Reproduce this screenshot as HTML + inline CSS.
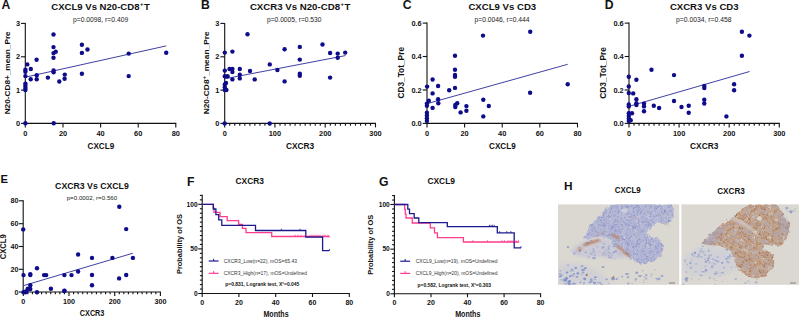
<!DOCTYPE html>
<html><head><meta charset="utf-8"><style>
html,body{margin:0;padding:0;background:#fff;}
svg{display:block;font-family:"Liberation Sans", sans-serif;}
</style></head><body>
<svg width="799" height="317" viewBox="0 0 799 317" style='font-family:"Liberation Sans", sans-serif'>
<rect width="799" height="317" fill="#fff"/>
<text x="1.50" y="8.80" font-size="12.2" font-weight="bold" text-anchor="start" fill="#111" >A</text>
<text x="51.25" y="9.70" font-size="9.5" font-weight="bold" text-anchor="start" fill="#111" textLength="98.60" lengthAdjust="spacingAndGlyphs" >CXCL9 Vs N20-CD8<tspan font-size="5.8" dx="0.5" dy="-3.6">+</tspan><tspan dx="0.6" dy="3.6">T</tspan></text>
<text x="73.00" y="22.40" font-size="6.7" font-weight="normal" text-anchor="start" fill="#222" textLength="55.20" lengthAdjust="spacingAndGlyphs" >p=0.0098, r=0.409</text>
<line x1="25.30" y1="22.90" x2="25.30" y2="123.95" stroke="#111" stroke-width="1.1"/>
<line x1="24.80" y1="123.40" x2="176.30" y2="123.40" stroke="#111" stroke-width="1.1"/>
<line x1="21.00" y1="123.40" x2="25.30" y2="123.40" stroke="#111" stroke-width="1.1"/>
<text x="20.00" y="126.00" font-size="7.92" font-weight="bold" text-anchor="end" fill="#111" textLength="4.12" lengthAdjust="spacingAndGlyphs" >0</text>
<line x1="21.00" y1="90.10" x2="25.30" y2="90.10" stroke="#111" stroke-width="1.1"/>
<text x="20.00" y="92.70" font-size="7.92" font-weight="bold" text-anchor="end" fill="#111" textLength="4.12" lengthAdjust="spacingAndGlyphs" >1</text>
<line x1="21.00" y1="56.80" x2="25.30" y2="56.80" stroke="#111" stroke-width="1.1"/>
<text x="20.00" y="59.40" font-size="7.92" font-weight="bold" text-anchor="end" fill="#111" textLength="4.12" lengthAdjust="spacingAndGlyphs" >2</text>
<line x1="21.00" y1="23.40" x2="25.30" y2="23.40" stroke="#111" stroke-width="1.1"/>
<text x="20.00" y="26.00" font-size="7.92" font-weight="bold" text-anchor="end" fill="#111" textLength="4.12" lengthAdjust="spacingAndGlyphs" >3</text>
<line x1="25.30" y1="123.40" x2="25.30" y2="127.40" stroke="#111" stroke-width="1.1"/>
<text x="25.30" y="136.10" font-size="7.92" font-weight="bold" text-anchor="middle" fill="#111" textLength="4.12" lengthAdjust="spacingAndGlyphs" >0</text>
<line x1="63.00" y1="123.40" x2="63.00" y2="127.40" stroke="#111" stroke-width="1.1"/>
<text x="63.00" y="136.10" font-size="7.92" font-weight="bold" text-anchor="middle" fill="#111" textLength="8.23" lengthAdjust="spacingAndGlyphs" >20</text>
<line x1="100.60" y1="123.40" x2="100.60" y2="127.40" stroke="#111" stroke-width="1.1"/>
<text x="100.60" y="136.10" font-size="7.92" font-weight="bold" text-anchor="middle" fill="#111" textLength="8.23" lengthAdjust="spacingAndGlyphs" >40</text>
<line x1="138.20" y1="123.40" x2="138.20" y2="127.40" stroke="#111" stroke-width="1.1"/>
<text x="138.20" y="136.10" font-size="7.92" font-weight="bold" text-anchor="middle" fill="#111" textLength="8.23" lengthAdjust="spacingAndGlyphs" >60</text>
<line x1="175.80" y1="123.40" x2="175.80" y2="127.40" stroke="#111" stroke-width="1.1"/>
<text x="175.80" y="136.10" font-size="7.92" font-weight="bold" text-anchor="middle" fill="#111" textLength="8.23" lengthAdjust="spacingAndGlyphs" >80</text>
<text x="100.90" y="148.60" font-size="8.8" font-weight="bold" text-anchor="middle" fill="#111" textLength="26.60" lengthAdjust="spacingAndGlyphs" >CXCL9</text>
<text transform="translate(9.80,72.85) rotate(-90)" x="0" y="0" font-size="8.0" font-weight="bold" text-anchor="middle" fill="#111" textLength="83.00" lengthAdjust="spacingAndGlyphs">N20-CD8+_mean_Pre</text>
<line x1="25.30" y1="77.20" x2="166.20" y2="45.90" stroke="#2a2a9a" stroke-width="0.9"/>
<circle cx="25.40" cy="69.70" r="2.2" fill="#0e0c8a"/>
<circle cx="25.40" cy="71.80" r="2.2" fill="#0e0c8a"/>
<circle cx="25.40" cy="76.10" r="2.2" fill="#0e0c8a"/>
<circle cx="25.40" cy="83.60" r="2.2" fill="#0e0c8a"/>
<circle cx="25.40" cy="85.70" r="2.2" fill="#0e0c8a"/>
<circle cx="25.40" cy="87.90" r="2.2" fill="#0e0c8a"/>
<circle cx="25.40" cy="90.00" r="2.2" fill="#0e0c8a"/>
<circle cx="25.40" cy="123.30" r="2.2" fill="#0e0c8a"/>
<circle cx="27.30" cy="64.40" r="2.2" fill="#0e0c8a"/>
<circle cx="30.80" cy="69.00" r="2.2" fill="#0e0c8a"/>
<circle cx="30.70" cy="79.30" r="2.2" fill="#0e0c8a"/>
<circle cx="36.60" cy="59.70" r="2.2" fill="#0e0c8a"/>
<circle cx="36.70" cy="75.20" r="2.2" fill="#0e0c8a"/>
<circle cx="36.70" cy="79.30" r="2.2" fill="#0e0c8a"/>
<circle cx="47.90" cy="77.60" r="2.2" fill="#0e0c8a"/>
<circle cx="53.50" cy="34.50" r="2.2" fill="#0e0c8a"/>
<circle cx="53.50" cy="47.10" r="2.2" fill="#0e0c8a"/>
<circle cx="53.50" cy="53.10" r="2.2" fill="#0e0c8a"/>
<circle cx="55.70" cy="51.80" r="2.2" fill="#0e0c8a"/>
<circle cx="53.50" cy="57.80" r="2.2" fill="#0e0c8a"/>
<circle cx="53.60" cy="70.40" r="2.2" fill="#0e0c8a"/>
<circle cx="53.60" cy="72.20" r="2.2" fill="#0e0c8a"/>
<circle cx="53.70" cy="123.30" r="2.2" fill="#0e0c8a"/>
<circle cx="59.30" cy="81.50" r="2.2" fill="#0e0c8a"/>
<circle cx="64.80" cy="74.60" r="2.2" fill="#0e0c8a"/>
<circle cx="64.60" cy="78.70" r="2.2" fill="#0e0c8a"/>
<circle cx="81.90" cy="44.70" r="2.2" fill="#0e0c8a"/>
<circle cx="87.50" cy="49.50" r="2.2" fill="#0e0c8a"/>
<circle cx="81.90" cy="52.90" r="2.2" fill="#0e0c8a"/>
<circle cx="81.90" cy="73.80" r="2.2" fill="#0e0c8a"/>
<circle cx="128.70" cy="53.60" r="2.2" fill="#0e0c8a"/>
<circle cx="128.70" cy="76.10" r="2.2" fill="#0e0c8a"/>
<circle cx="166.20" cy="52.70" r="2.2" fill="#0e0c8a"/>
<text x="201.00" y="8.80" font-size="12.2" font-weight="bold" text-anchor="start" fill="#111" >B</text>
<text x="249.90" y="9.70" font-size="9.5" font-weight="bold" text-anchor="start" fill="#111" textLength="100.60" lengthAdjust="spacingAndGlyphs" >CXCR3 Vs N20-CD8<tspan font-size="5.8" dx="0.5" dy="-3.6">+</tspan><tspan dx="0.6" dy="3.6">T</tspan></text>
<text x="267.00" y="22.40" font-size="6.7" font-weight="normal" text-anchor="start" fill="#222" textLength="54.50" lengthAdjust="spacingAndGlyphs" >p=0.0005, r=0.530</text>
<line x1="224.70" y1="22.90" x2="224.70" y2="123.95" stroke="#111" stroke-width="1.1"/>
<line x1="224.20" y1="123.40" x2="376.00" y2="123.40" stroke="#111" stroke-width="1.1"/>
<line x1="220.40" y1="123.40" x2="224.70" y2="123.40" stroke="#111" stroke-width="1.1"/>
<text x="219.40" y="126.00" font-size="7.92" font-weight="bold" text-anchor="end" fill="#111" textLength="4.12" lengthAdjust="spacingAndGlyphs" >0</text>
<line x1="220.40" y1="90.10" x2="224.70" y2="90.10" stroke="#111" stroke-width="1.1"/>
<text x="219.40" y="92.70" font-size="7.92" font-weight="bold" text-anchor="end" fill="#111" textLength="4.12" lengthAdjust="spacingAndGlyphs" >1</text>
<line x1="220.40" y1="56.80" x2="224.70" y2="56.80" stroke="#111" stroke-width="1.1"/>
<text x="219.40" y="59.40" font-size="7.92" font-weight="bold" text-anchor="end" fill="#111" textLength="4.12" lengthAdjust="spacingAndGlyphs" >2</text>
<line x1="220.40" y1="23.40" x2="224.70" y2="23.40" stroke="#111" stroke-width="1.1"/>
<text x="219.40" y="26.00" font-size="7.92" font-weight="bold" text-anchor="end" fill="#111" textLength="4.12" lengthAdjust="spacingAndGlyphs" >3</text>
<line x1="224.70" y1="123.40" x2="224.70" y2="127.40" stroke="#111" stroke-width="1.1"/>
<text x="224.70" y="136.10" font-size="7.92" font-weight="bold" text-anchor="middle" fill="#111" textLength="4.12" lengthAdjust="spacingAndGlyphs" >0</text>
<line x1="274.90" y1="123.40" x2="274.90" y2="127.40" stroke="#111" stroke-width="1.1"/>
<text x="274.90" y="136.10" font-size="7.92" font-weight="bold" text-anchor="middle" fill="#111" textLength="12.35" lengthAdjust="spacingAndGlyphs" >100</text>
<line x1="325.20" y1="123.40" x2="325.20" y2="127.40" stroke="#111" stroke-width="1.1"/>
<text x="325.20" y="136.10" font-size="7.92" font-weight="bold" text-anchor="middle" fill="#111" textLength="12.35" lengthAdjust="spacingAndGlyphs" >200</text>
<line x1="375.50" y1="123.40" x2="375.50" y2="127.40" stroke="#111" stroke-width="1.1"/>
<text x="375.50" y="136.10" font-size="7.92" font-weight="bold" text-anchor="middle" fill="#111" textLength="12.35" lengthAdjust="spacingAndGlyphs" >300</text>
<line x1="229.73" y1="123.40" x2="229.73" y2="125.70" stroke="#111" stroke-width="1.1"/>
<line x1="234.76" y1="123.40" x2="234.76" y2="125.70" stroke="#111" stroke-width="1.1"/>
<line x1="239.79" y1="123.40" x2="239.79" y2="125.70" stroke="#111" stroke-width="1.1"/>
<line x1="244.82" y1="123.40" x2="244.82" y2="125.70" stroke="#111" stroke-width="1.1"/>
<line x1="249.85" y1="123.40" x2="249.85" y2="125.70" stroke="#111" stroke-width="1.1"/>
<line x1="254.88" y1="123.40" x2="254.88" y2="125.70" stroke="#111" stroke-width="1.1"/>
<line x1="259.91" y1="123.40" x2="259.91" y2="125.70" stroke="#111" stroke-width="1.1"/>
<line x1="264.94" y1="123.40" x2="264.94" y2="125.70" stroke="#111" stroke-width="1.1"/>
<line x1="269.97" y1="123.40" x2="269.97" y2="125.70" stroke="#111" stroke-width="1.1"/>
<line x1="280.03" y1="123.40" x2="280.03" y2="125.70" stroke="#111" stroke-width="1.1"/>
<line x1="285.06" y1="123.40" x2="285.06" y2="125.70" stroke="#111" stroke-width="1.1"/>
<line x1="290.09" y1="123.40" x2="290.09" y2="125.70" stroke="#111" stroke-width="1.1"/>
<line x1="295.12" y1="123.40" x2="295.12" y2="125.70" stroke="#111" stroke-width="1.1"/>
<line x1="300.15" y1="123.40" x2="300.15" y2="125.70" stroke="#111" stroke-width="1.1"/>
<line x1="305.18" y1="123.40" x2="305.18" y2="125.70" stroke="#111" stroke-width="1.1"/>
<line x1="310.21" y1="123.40" x2="310.21" y2="125.70" stroke="#111" stroke-width="1.1"/>
<line x1="315.24" y1="123.40" x2="315.24" y2="125.70" stroke="#111" stroke-width="1.1"/>
<line x1="320.27" y1="123.40" x2="320.27" y2="125.70" stroke="#111" stroke-width="1.1"/>
<line x1="330.33" y1="123.40" x2="330.33" y2="125.70" stroke="#111" stroke-width="1.1"/>
<line x1="335.36" y1="123.40" x2="335.36" y2="125.70" stroke="#111" stroke-width="1.1"/>
<line x1="340.39" y1="123.40" x2="340.39" y2="125.70" stroke="#111" stroke-width="1.1"/>
<line x1="345.42" y1="123.40" x2="345.42" y2="125.70" stroke="#111" stroke-width="1.1"/>
<line x1="350.45" y1="123.40" x2="350.45" y2="125.70" stroke="#111" stroke-width="1.1"/>
<line x1="355.48" y1="123.40" x2="355.48" y2="125.70" stroke="#111" stroke-width="1.1"/>
<line x1="360.51" y1="123.40" x2="360.51" y2="125.70" stroke="#111" stroke-width="1.1"/>
<line x1="365.54" y1="123.40" x2="365.54" y2="125.70" stroke="#111" stroke-width="1.1"/>
<line x1="370.57" y1="123.40" x2="370.57" y2="125.70" stroke="#111" stroke-width="1.1"/>
<text x="300.10" y="148.50" font-size="8.9" font-weight="bold" text-anchor="middle" fill="#111" textLength="28.20" lengthAdjust="spacingAndGlyphs" >CXCR3</text>
<text transform="translate(209.20,72.85) rotate(-90)" x="0" y="0" font-size="8.0" font-weight="bold" text-anchor="middle" fill="#111" textLength="83.00" lengthAdjust="spacingAndGlyphs">N20-CD8<tspan font-size="5.6" dy="-3.2">+</tspan><tspan dy="3.2">_mean_Pre</tspan></text>
<line x1="224.70" y1="78.80" x2="345.50" y2="55.60" stroke="#2a2a9a" stroke-width="0.9"/>
<circle cx="224.80" cy="52.60" r="2.2" fill="#0e0c8a"/>
<circle cx="232.40" cy="51.60" r="2.2" fill="#0e0c8a"/>
<circle cx="224.80" cy="70.60" r="2.2" fill="#0e0c8a"/>
<circle cx="229.50" cy="69.00" r="2.2" fill="#0e0c8a"/>
<circle cx="232.40" cy="69.00" r="2.2" fill="#0e0c8a"/>
<circle cx="232.40" cy="72.10" r="2.2" fill="#0e0c8a"/>
<circle cx="239.80" cy="69.00" r="2.2" fill="#0e0c8a"/>
<circle cx="239.80" cy="74.70" r="2.2" fill="#0e0c8a"/>
<circle cx="239.80" cy="78.40" r="2.2" fill="#0e0c8a"/>
<circle cx="232.40" cy="79.40" r="2.2" fill="#0e0c8a"/>
<circle cx="250.00" cy="71.00" r="2.2" fill="#0e0c8a"/>
<circle cx="254.70" cy="79.40" r="2.2" fill="#0e0c8a"/>
<circle cx="224.80" cy="76.20" r="2.2" fill="#0e0c8a"/>
<circle cx="227.60" cy="76.20" r="2.2" fill="#0e0c8a"/>
<circle cx="226.00" cy="82.90" r="2.2" fill="#0e0c8a"/>
<circle cx="224.80" cy="84.40" r="2.2" fill="#0e0c8a"/>
<circle cx="224.80" cy="87.30" r="2.2" fill="#0e0c8a"/>
<circle cx="224.80" cy="90.00" r="2.2" fill="#0e0c8a"/>
<circle cx="226.40" cy="90.00" r="2.2" fill="#0e0c8a"/>
<circle cx="247.50" cy="34.30" r="2.2" fill="#0e0c8a"/>
<circle cx="269.80" cy="64.40" r="2.2" fill="#0e0c8a"/>
<circle cx="277.40" cy="70.00" r="2.2" fill="#0e0c8a"/>
<circle cx="284.60" cy="49.20" r="2.2" fill="#0e0c8a"/>
<circle cx="284.60" cy="81.40" r="2.2" fill="#0e0c8a"/>
<circle cx="299.80" cy="46.90" r="2.2" fill="#0e0c8a"/>
<circle cx="299.80" cy="59.60" r="2.2" fill="#0e0c8a"/>
<circle cx="299.80" cy="73.80" r="2.2" fill="#0e0c8a"/>
<circle cx="299.80" cy="75.70" r="2.2" fill="#0e0c8a"/>
<circle cx="322.50" cy="44.50" r="2.2" fill="#0e0c8a"/>
<circle cx="330.10" cy="53.00" r="2.2" fill="#0e0c8a"/>
<circle cx="330.10" cy="77.60" r="2.2" fill="#0e0c8a"/>
<circle cx="337.70" cy="53.60" r="2.2" fill="#0e0c8a"/>
<circle cx="337.70" cy="57.70" r="2.2" fill="#0e0c8a"/>
<circle cx="345.20" cy="52.60" r="2.2" fill="#0e0c8a"/>
<circle cx="224.70" cy="123.40" r="2.2" fill="#0e0c8a"/>
<circle cx="269.70" cy="123.40" r="2.2" fill="#0e0c8a"/>
<text x="402.80" y="8.80" font-size="12.2" font-weight="bold" text-anchor="start" fill="#111" >C</text>
<text x="468.40" y="9.80" font-size="9.5" font-weight="bold" text-anchor="start" fill="#111" textLength="67.80" lengthAdjust="spacingAndGlyphs" >CXCL9 Vs CD3</text>
<text x="474.50" y="22.40" font-size="6.7" font-weight="normal" text-anchor="start" fill="#222" textLength="55.10" lengthAdjust="spacingAndGlyphs" >p=0.0046, r=0.444</text>
<line x1="427.00" y1="22.60" x2="427.00" y2="123.95" stroke="#111" stroke-width="1.1"/>
<line x1="426.50" y1="123.40" x2="578.00" y2="123.40" stroke="#111" stroke-width="1.1"/>
<line x1="422.70" y1="123.40" x2="427.00" y2="123.40" stroke="#111" stroke-width="1.1"/>
<text x="421.70" y="126.00" font-size="7.92" font-weight="bold" text-anchor="end" fill="#111" textLength="10.29" lengthAdjust="spacingAndGlyphs" >0.0</text>
<line x1="422.70" y1="90.00" x2="427.00" y2="90.00" stroke="#111" stroke-width="1.1"/>
<text x="421.70" y="92.60" font-size="7.92" font-weight="bold" text-anchor="end" fill="#111" textLength="10.29" lengthAdjust="spacingAndGlyphs" >0.2</text>
<line x1="422.70" y1="56.50" x2="427.00" y2="56.50" stroke="#111" stroke-width="1.1"/>
<text x="421.70" y="59.10" font-size="7.92" font-weight="bold" text-anchor="end" fill="#111" textLength="10.29" lengthAdjust="spacingAndGlyphs" >0.4</text>
<line x1="422.70" y1="23.10" x2="427.00" y2="23.10" stroke="#111" stroke-width="1.1"/>
<text x="421.70" y="25.70" font-size="7.92" font-weight="bold" text-anchor="end" fill="#111" textLength="10.29" lengthAdjust="spacingAndGlyphs" >0.6</text>
<line x1="427.00" y1="123.40" x2="427.00" y2="127.40" stroke="#111" stroke-width="1.1"/>
<text x="427.00" y="136.10" font-size="7.92" font-weight="bold" text-anchor="middle" fill="#111" textLength="4.12" lengthAdjust="spacingAndGlyphs" >0</text>
<line x1="464.60" y1="123.40" x2="464.60" y2="127.40" stroke="#111" stroke-width="1.1"/>
<text x="464.60" y="136.10" font-size="7.92" font-weight="bold" text-anchor="middle" fill="#111" textLength="8.23" lengthAdjust="spacingAndGlyphs" >20</text>
<line x1="502.20" y1="123.40" x2="502.20" y2="127.40" stroke="#111" stroke-width="1.1"/>
<text x="502.20" y="136.10" font-size="7.92" font-weight="bold" text-anchor="middle" fill="#111" textLength="8.23" lengthAdjust="spacingAndGlyphs" >40</text>
<line x1="539.80" y1="123.40" x2="539.80" y2="127.40" stroke="#111" stroke-width="1.1"/>
<text x="539.80" y="136.10" font-size="7.92" font-weight="bold" text-anchor="middle" fill="#111" textLength="8.23" lengthAdjust="spacingAndGlyphs" >60</text>
<line x1="577.50" y1="123.40" x2="577.50" y2="127.40" stroke="#111" stroke-width="1.1"/>
<text x="577.50" y="136.10" font-size="7.92" font-weight="bold" text-anchor="middle" fill="#111" textLength="8.23" lengthAdjust="spacingAndGlyphs" >80</text>
<text x="502.40" y="148.60" font-size="8.8" font-weight="bold" text-anchor="middle" fill="#111" textLength="26.60" lengthAdjust="spacingAndGlyphs" >CXCL9</text>
<text transform="translate(404.20,72.80) rotate(-90)" x="0" y="0" font-size="8.5" font-weight="bold" text-anchor="middle" fill="#111" textLength="51.60" lengthAdjust="spacingAndGlyphs">CD3_Tot_Pre</text>
<line x1="427.00" y1="103.70" x2="567.70" y2="64.30" stroke="#2a2a9a" stroke-width="0.9"/>
<circle cx="455.00" cy="55.80" r="2.2" fill="#0e0c8a"/>
<circle cx="455.00" cy="69.70" r="2.2" fill="#0e0c8a"/>
<circle cx="455.00" cy="74.90" r="2.2" fill="#0e0c8a"/>
<circle cx="455.00" cy="76.80" r="2.2" fill="#0e0c8a"/>
<circle cx="455.00" cy="87.90" r="2.2" fill="#0e0c8a"/>
<circle cx="449.20" cy="90.20" r="2.2" fill="#0e0c8a"/>
<circle cx="432.60" cy="79.50" r="2.2" fill="#0e0c8a"/>
<circle cx="427.10" cy="86.60" r="2.2" fill="#0e0c8a"/>
<circle cx="438.10" cy="86.00" r="2.2" fill="#0e0c8a"/>
<circle cx="432.60" cy="93.40" r="2.2" fill="#0e0c8a"/>
<circle cx="438.10" cy="99.20" r="2.2" fill="#0e0c8a"/>
<circle cx="428.80" cy="100.70" r="2.2" fill="#0e0c8a"/>
<circle cx="426.90" cy="103.60" r="2.2" fill="#0e0c8a"/>
<circle cx="426.90" cy="105.80" r="2.2" fill="#0e0c8a"/>
<circle cx="438.30" cy="103.20" r="2.2" fill="#0e0c8a"/>
<circle cx="432.60" cy="107.90" r="2.2" fill="#0e0c8a"/>
<circle cx="455.30" cy="104.90" r="2.2" fill="#0e0c8a"/>
<circle cx="457.20" cy="103.20" r="2.2" fill="#0e0c8a"/>
<circle cx="455.30" cy="107.00" r="2.2" fill="#0e0c8a"/>
<circle cx="460.60" cy="112.40" r="2.2" fill="#0e0c8a"/>
<circle cx="466.40" cy="106.10" r="2.2" fill="#0e0c8a"/>
<circle cx="466.40" cy="110.80" r="2.2" fill="#0e0c8a"/>
<circle cx="426.90" cy="112.70" r="2.2" fill="#0e0c8a"/>
<circle cx="426.90" cy="115.50" r="2.2" fill="#0e0c8a"/>
<circle cx="426.90" cy="118.20" r="2.2" fill="#0e0c8a"/>
<circle cx="426.90" cy="120.90" r="2.2" fill="#0e0c8a"/>
<circle cx="483.00" cy="35.60" r="2.2" fill="#0e0c8a"/>
<circle cx="530.20" cy="31.80" r="2.2" fill="#0e0c8a"/>
<circle cx="483.30" cy="99.80" r="2.2" fill="#0e0c8a"/>
<circle cx="488.80" cy="106.00" r="2.2" fill="#0e0c8a"/>
<circle cx="483.30" cy="116.40" r="2.2" fill="#0e0c8a"/>
<circle cx="530.10" cy="92.70" r="2.2" fill="#0e0c8a"/>
<circle cx="567.70" cy="84.30" r="2.2" fill="#0e0c8a"/>
<text x="604.80" y="8.80" font-size="12.2" font-weight="bold" text-anchor="start" fill="#111" >D</text>
<text x="669.90" y="9.80" font-size="9.5" font-weight="bold" text-anchor="start" fill="#111" textLength="68.70" lengthAdjust="spacingAndGlyphs" >CXCR3 Vs CD3</text>
<text x="676.10" y="22.40" font-size="6.7" font-weight="normal" text-anchor="start" fill="#222" textLength="55.40" lengthAdjust="spacingAndGlyphs" >p=0.0034, r=0.458</text>
<line x1="629.00" y1="22.60" x2="629.00" y2="123.95" stroke="#111" stroke-width="1.1"/>
<line x1="628.50" y1="123.40" x2="779.80" y2="123.40" stroke="#111" stroke-width="1.1"/>
<line x1="624.70" y1="123.40" x2="629.00" y2="123.40" stroke="#111" stroke-width="1.1"/>
<text x="623.70" y="126.00" font-size="7.92" font-weight="bold" text-anchor="end" fill="#111" textLength="10.29" lengthAdjust="spacingAndGlyphs" >0.0</text>
<line x1="624.70" y1="90.00" x2="629.00" y2="90.00" stroke="#111" stroke-width="1.1"/>
<text x="623.70" y="92.60" font-size="7.92" font-weight="bold" text-anchor="end" fill="#111" textLength="10.29" lengthAdjust="spacingAndGlyphs" >0.2</text>
<line x1="624.70" y1="56.50" x2="629.00" y2="56.50" stroke="#111" stroke-width="1.1"/>
<text x="623.70" y="59.10" font-size="7.92" font-weight="bold" text-anchor="end" fill="#111" textLength="10.29" lengthAdjust="spacingAndGlyphs" >0.4</text>
<line x1="624.70" y1="23.10" x2="629.00" y2="23.10" stroke="#111" stroke-width="1.1"/>
<text x="623.70" y="25.70" font-size="7.92" font-weight="bold" text-anchor="end" fill="#111" textLength="10.29" lengthAdjust="spacingAndGlyphs" >0.6</text>
<line x1="629.00" y1="123.40" x2="629.00" y2="127.40" stroke="#111" stroke-width="1.1"/>
<text x="629.00" y="136.10" font-size="7.92" font-weight="bold" text-anchor="middle" fill="#111" textLength="4.12" lengthAdjust="spacingAndGlyphs" >0</text>
<line x1="679.10" y1="123.40" x2="679.10" y2="127.40" stroke="#111" stroke-width="1.1"/>
<text x="679.10" y="136.10" font-size="7.92" font-weight="bold" text-anchor="middle" fill="#111" textLength="12.35" lengthAdjust="spacingAndGlyphs" >100</text>
<line x1="729.20" y1="123.40" x2="729.20" y2="127.40" stroke="#111" stroke-width="1.1"/>
<text x="729.20" y="136.10" font-size="7.92" font-weight="bold" text-anchor="middle" fill="#111" textLength="12.35" lengthAdjust="spacingAndGlyphs" >200</text>
<line x1="779.30" y1="123.40" x2="779.30" y2="127.40" stroke="#111" stroke-width="1.1"/>
<text x="779.30" y="136.10" font-size="7.92" font-weight="bold" text-anchor="middle" fill="#111" textLength="12.35" lengthAdjust="spacingAndGlyphs" >300</text>
<line x1="634.01" y1="123.40" x2="634.01" y2="125.70" stroke="#111" stroke-width="1.1"/>
<line x1="639.02" y1="123.40" x2="639.02" y2="125.70" stroke="#111" stroke-width="1.1"/>
<line x1="644.03" y1="123.40" x2="644.03" y2="125.70" stroke="#111" stroke-width="1.1"/>
<line x1="649.04" y1="123.40" x2="649.04" y2="125.70" stroke="#111" stroke-width="1.1"/>
<line x1="654.05" y1="123.40" x2="654.05" y2="125.70" stroke="#111" stroke-width="1.1"/>
<line x1="659.06" y1="123.40" x2="659.06" y2="125.70" stroke="#111" stroke-width="1.1"/>
<line x1="664.07" y1="123.40" x2="664.07" y2="125.70" stroke="#111" stroke-width="1.1"/>
<line x1="669.08" y1="123.40" x2="669.08" y2="125.70" stroke="#111" stroke-width="1.1"/>
<line x1="674.09" y1="123.40" x2="674.09" y2="125.70" stroke="#111" stroke-width="1.1"/>
<line x1="684.11" y1="123.40" x2="684.11" y2="125.70" stroke="#111" stroke-width="1.1"/>
<line x1="689.12" y1="123.40" x2="689.12" y2="125.70" stroke="#111" stroke-width="1.1"/>
<line x1="694.13" y1="123.40" x2="694.13" y2="125.70" stroke="#111" stroke-width="1.1"/>
<line x1="699.14" y1="123.40" x2="699.14" y2="125.70" stroke="#111" stroke-width="1.1"/>
<line x1="704.15" y1="123.40" x2="704.15" y2="125.70" stroke="#111" stroke-width="1.1"/>
<line x1="709.16" y1="123.40" x2="709.16" y2="125.70" stroke="#111" stroke-width="1.1"/>
<line x1="714.17" y1="123.40" x2="714.17" y2="125.70" stroke="#111" stroke-width="1.1"/>
<line x1="719.18" y1="123.40" x2="719.18" y2="125.70" stroke="#111" stroke-width="1.1"/>
<line x1="724.19" y1="123.40" x2="724.19" y2="125.70" stroke="#111" stroke-width="1.1"/>
<line x1="734.21" y1="123.40" x2="734.21" y2="125.70" stroke="#111" stroke-width="1.1"/>
<line x1="739.22" y1="123.40" x2="739.22" y2="125.70" stroke="#111" stroke-width="1.1"/>
<line x1="744.23" y1="123.40" x2="744.23" y2="125.70" stroke="#111" stroke-width="1.1"/>
<line x1="749.24" y1="123.40" x2="749.24" y2="125.70" stroke="#111" stroke-width="1.1"/>
<line x1="754.25" y1="123.40" x2="754.25" y2="125.70" stroke="#111" stroke-width="1.1"/>
<line x1="759.26" y1="123.40" x2="759.26" y2="125.70" stroke="#111" stroke-width="1.1"/>
<line x1="764.27" y1="123.40" x2="764.27" y2="125.70" stroke="#111" stroke-width="1.1"/>
<line x1="769.28" y1="123.40" x2="769.28" y2="125.70" stroke="#111" stroke-width="1.1"/>
<line x1="774.29" y1="123.40" x2="774.29" y2="125.70" stroke="#111" stroke-width="1.1"/>
<text x="704.20" y="148.60" font-size="8.9" font-weight="bold" text-anchor="middle" fill="#111" textLength="28.20" lengthAdjust="spacingAndGlyphs" >CXCR3</text>
<text transform="translate(605.80,72.90) rotate(-90)" x="0" y="0" font-size="8.5" font-weight="bold" text-anchor="middle" fill="#111" textLength="51.60" lengthAdjust="spacingAndGlyphs">CD3_Tot_Pre</text>
<line x1="628.80" y1="106.40" x2="749.60" y2="71.50" stroke="#2a2a9a" stroke-width="0.9"/>
<circle cx="651.50" cy="69.80" r="2.2" fill="#0e0c8a"/>
<circle cx="674.00" cy="75.10" r="2.2" fill="#0e0c8a"/>
<circle cx="628.80" cy="76.80" r="2.2" fill="#0e0c8a"/>
<circle cx="636.40" cy="79.70" r="2.2" fill="#0e0c8a"/>
<circle cx="628.80" cy="86.50" r="2.2" fill="#0e0c8a"/>
<circle cx="628.80" cy="93.00" r="2.2" fill="#0e0c8a"/>
<circle cx="633.20" cy="93.40" r="2.2" fill="#0e0c8a"/>
<circle cx="636.40" cy="99.30" r="2.2" fill="#0e0c8a"/>
<circle cx="636.40" cy="103.20" r="2.2" fill="#0e0c8a"/>
<circle cx="636.40" cy="105.10" r="2.2" fill="#0e0c8a"/>
<circle cx="628.80" cy="104.50" r="2.2" fill="#0e0c8a"/>
<circle cx="628.80" cy="106.40" r="2.2" fill="#0e0c8a"/>
<circle cx="644.00" cy="103.60" r="2.2" fill="#0e0c8a"/>
<circle cx="644.00" cy="106.40" r="2.2" fill="#0e0c8a"/>
<circle cx="644.00" cy="111.20" r="2.2" fill="#0e0c8a"/>
<circle cx="653.80" cy="105.80" r="2.2" fill="#0e0c8a"/>
<circle cx="659.10" cy="108.00" r="2.2" fill="#0e0c8a"/>
<circle cx="674.00" cy="101.00" r="2.2" fill="#0e0c8a"/>
<circle cx="681.50" cy="107.00" r="2.2" fill="#0e0c8a"/>
<circle cx="688.70" cy="105.80" r="2.2" fill="#0e0c8a"/>
<circle cx="688.70" cy="112.70" r="2.2" fill="#0e0c8a"/>
<circle cx="628.80" cy="113.30" r="2.2" fill="#0e0c8a"/>
<circle cx="628.80" cy="116.00" r="2.2" fill="#0e0c8a"/>
<circle cx="628.80" cy="118.50" r="2.2" fill="#0e0c8a"/>
<circle cx="628.80" cy="120.90" r="2.2" fill="#0e0c8a"/>
<circle cx="632.00" cy="113.30" r="2.2" fill="#0e0c8a"/>
<circle cx="630.70" cy="120.30" r="2.2" fill="#0e0c8a"/>
<circle cx="704.30" cy="85.90" r="2.2" fill="#0e0c8a"/>
<circle cx="704.30" cy="88.10" r="2.2" fill="#0e0c8a"/>
<circle cx="704.30" cy="99.80" r="2.2" fill="#0e0c8a"/>
<circle cx="704.30" cy="103.50" r="2.2" fill="#0e0c8a"/>
<circle cx="726.40" cy="116.40" r="2.2" fill="#0e0c8a"/>
<circle cx="734.10" cy="84.30" r="2.2" fill="#0e0c8a"/>
<circle cx="734.10" cy="90.30" r="2.2" fill="#0e0c8a"/>
<circle cx="741.90" cy="31.80" r="2.2" fill="#0e0c8a"/>
<circle cx="749.40" cy="35.60" r="2.2" fill="#0e0c8a"/>
<circle cx="741.90" cy="55.80" r="2.2" fill="#0e0c8a"/>
<text x="0.50" y="183.40" font-size="11.2" font-weight="bold" text-anchor="start" fill="#111" >E</text>
<text x="55.10" y="189.10" font-size="9.2" font-weight="bold" text-anchor="start" fill="#111" textLength="73.70" lengthAdjust="spacingAndGlyphs" >CXCR3 Vs CXCL9</text>
<text x="66.70" y="199.90" font-size="6.2" font-weight="normal" text-anchor="start" fill="#222" textLength="50.50" lengthAdjust="spacingAndGlyphs" >p=0.0002, r=0.560</text>
<line x1="23.20" y1="200.30" x2="23.20" y2="292.55" stroke="#111" stroke-width="1.1"/>
<line x1="22.70" y1="292.00" x2="160.90" y2="292.00" stroke="#111" stroke-width="1.1"/>
<line x1="18.90" y1="292.00" x2="23.20" y2="292.00" stroke="#111" stroke-width="1.1"/>
<text x="18.60" y="294.60" font-size="7.7" font-weight="bold" text-anchor="end" fill="#111" textLength="4.00" lengthAdjust="spacingAndGlyphs" >0</text>
<line x1="18.90" y1="269.30" x2="23.20" y2="269.30" stroke="#111" stroke-width="1.1"/>
<text x="18.60" y="271.90" font-size="7.7" font-weight="bold" text-anchor="end" fill="#111" textLength="8.01" lengthAdjust="spacingAndGlyphs" >20</text>
<line x1="18.90" y1="246.50" x2="23.20" y2="246.50" stroke="#111" stroke-width="1.1"/>
<text x="18.60" y="249.10" font-size="7.7" font-weight="bold" text-anchor="end" fill="#111" textLength="8.01" lengthAdjust="spacingAndGlyphs" >40</text>
<line x1="18.90" y1="223.70" x2="23.20" y2="223.70" stroke="#111" stroke-width="1.1"/>
<text x="18.60" y="226.30" font-size="7.7" font-weight="bold" text-anchor="end" fill="#111" textLength="8.01" lengthAdjust="spacingAndGlyphs" >60</text>
<line x1="18.90" y1="200.80" x2="23.20" y2="200.80" stroke="#111" stroke-width="1.1"/>
<text x="18.60" y="203.40" font-size="7.7" font-weight="bold" text-anchor="end" fill="#111" textLength="8.01" lengthAdjust="spacingAndGlyphs" >80</text>
<line x1="23.30" y1="292.00" x2="23.30" y2="296.00" stroke="#111" stroke-width="1.1"/>
<text x="23.30" y="304.10" font-size="7.7" font-weight="bold" text-anchor="middle" fill="#111" textLength="4.00" lengthAdjust="spacingAndGlyphs" >0</text>
<line x1="69.00" y1="292.00" x2="69.00" y2="296.00" stroke="#111" stroke-width="1.1"/>
<text x="69.00" y="304.10" font-size="7.7" font-weight="bold" text-anchor="middle" fill="#111" textLength="12.01" lengthAdjust="spacingAndGlyphs" >100</text>
<line x1="114.70" y1="292.00" x2="114.70" y2="296.00" stroke="#111" stroke-width="1.1"/>
<text x="114.70" y="304.10" font-size="7.7" font-weight="bold" text-anchor="middle" fill="#111" textLength="12.01" lengthAdjust="spacingAndGlyphs" >200</text>
<line x1="160.40" y1="292.00" x2="160.40" y2="296.00" stroke="#111" stroke-width="1.1"/>
<text x="160.40" y="304.10" font-size="7.7" font-weight="bold" text-anchor="middle" fill="#111" textLength="12.01" lengthAdjust="spacingAndGlyphs" >300</text>
<line x1="27.87" y1="292.00" x2="27.87" y2="294.30" stroke="#111" stroke-width="1.1"/>
<line x1="32.44" y1="292.00" x2="32.44" y2="294.30" stroke="#111" stroke-width="1.1"/>
<line x1="37.01" y1="292.00" x2="37.01" y2="294.30" stroke="#111" stroke-width="1.1"/>
<line x1="41.58" y1="292.00" x2="41.58" y2="294.30" stroke="#111" stroke-width="1.1"/>
<line x1="46.15" y1="292.00" x2="46.15" y2="294.30" stroke="#111" stroke-width="1.1"/>
<line x1="50.72" y1="292.00" x2="50.72" y2="294.30" stroke="#111" stroke-width="1.1"/>
<line x1="55.29" y1="292.00" x2="55.29" y2="294.30" stroke="#111" stroke-width="1.1"/>
<line x1="59.86" y1="292.00" x2="59.86" y2="294.30" stroke="#111" stroke-width="1.1"/>
<line x1="64.43" y1="292.00" x2="64.43" y2="294.30" stroke="#111" stroke-width="1.1"/>
<line x1="73.57" y1="292.00" x2="73.57" y2="294.30" stroke="#111" stroke-width="1.1"/>
<line x1="78.14" y1="292.00" x2="78.14" y2="294.30" stroke="#111" stroke-width="1.1"/>
<line x1="82.71" y1="292.00" x2="82.71" y2="294.30" stroke="#111" stroke-width="1.1"/>
<line x1="87.28" y1="292.00" x2="87.28" y2="294.30" stroke="#111" stroke-width="1.1"/>
<line x1="91.85" y1="292.00" x2="91.85" y2="294.30" stroke="#111" stroke-width="1.1"/>
<line x1="96.42" y1="292.00" x2="96.42" y2="294.30" stroke="#111" stroke-width="1.1"/>
<line x1="100.99" y1="292.00" x2="100.99" y2="294.30" stroke="#111" stroke-width="1.1"/>
<line x1="105.56" y1="292.00" x2="105.56" y2="294.30" stroke="#111" stroke-width="1.1"/>
<line x1="110.13" y1="292.00" x2="110.13" y2="294.30" stroke="#111" stroke-width="1.1"/>
<line x1="119.27" y1="292.00" x2="119.27" y2="294.30" stroke="#111" stroke-width="1.1"/>
<line x1="123.84" y1="292.00" x2="123.84" y2="294.30" stroke="#111" stroke-width="1.1"/>
<line x1="128.41" y1="292.00" x2="128.41" y2="294.30" stroke="#111" stroke-width="1.1"/>
<line x1="132.98" y1="292.00" x2="132.98" y2="294.30" stroke="#111" stroke-width="1.1"/>
<line x1="137.55" y1="292.00" x2="137.55" y2="294.30" stroke="#111" stroke-width="1.1"/>
<line x1="142.12" y1="292.00" x2="142.12" y2="294.30" stroke="#111" stroke-width="1.1"/>
<line x1="146.69" y1="292.00" x2="146.69" y2="294.30" stroke="#111" stroke-width="1.1"/>
<line x1="151.26" y1="292.00" x2="151.26" y2="294.30" stroke="#111" stroke-width="1.1"/>
<line x1="155.83" y1="292.00" x2="155.83" y2="294.30" stroke="#111" stroke-width="1.1"/>
<text x="92.10" y="315.60" font-size="8.8" font-weight="bold" text-anchor="middle" fill="#111" textLength="24.60" lengthAdjust="spacingAndGlyphs" >CXCR3</text>
<text transform="translate(6.40,246.80) rotate(-90)" x="0" y="0" font-size="8.2" font-weight="bold" text-anchor="middle" fill="#111" textLength="24.80" lengthAdjust="spacingAndGlyphs">CXCL9</text>
<line x1="23.30" y1="285.70" x2="132.90" y2="253.20" stroke="#2a2a9a" stroke-width="0.9"/>
<circle cx="23.20" cy="229.40" r="2.2" fill="#0e0c8a"/>
<circle cx="23.50" cy="275.10" r="2.2" fill="#0e0c8a"/>
<circle cx="30.30" cy="274.10" r="2.2" fill="#0e0c8a"/>
<circle cx="30.30" cy="275.10" r="2.2" fill="#0e0c8a"/>
<circle cx="37.00" cy="268.20" r="2.2" fill="#0e0c8a"/>
<circle cx="44.10" cy="275.10" r="2.2" fill="#0e0c8a"/>
<circle cx="46.20" cy="275.10" r="2.2" fill="#0e0c8a"/>
<circle cx="30.30" cy="285.20" r="2.2" fill="#0e0c8a"/>
<circle cx="30.30" cy="289.00" r="2.2" fill="#0e0c8a"/>
<circle cx="27.80" cy="288.80" r="2.2" fill="#0e0c8a"/>
<circle cx="26.30" cy="291.20" r="2.2" fill="#0e0c8a"/>
<circle cx="23.50" cy="292.30" r="2.2" fill="#0e0c8a"/>
<circle cx="25.60" cy="292.30" r="2.2" fill="#0e0c8a"/>
<circle cx="37.00" cy="292.30" r="2.2" fill="#0e0c8a"/>
<circle cx="50.90" cy="288.80" r="2.2" fill="#0e0c8a"/>
<circle cx="64.40" cy="275.10" r="2.2" fill="#0e0c8a"/>
<circle cx="64.40" cy="290.70" r="2.2" fill="#0e0c8a"/>
<circle cx="71.50" cy="275.10" r="2.2" fill="#0e0c8a"/>
<circle cx="78.10" cy="254.50" r="2.2" fill="#0e0c8a"/>
<circle cx="92.00" cy="257.90" r="2.2" fill="#0e0c8a"/>
<circle cx="112.40" cy="257.90" r="2.2" fill="#0e0c8a"/>
<circle cx="132.90" cy="257.90" r="2.2" fill="#0e0c8a"/>
<circle cx="78.10" cy="271.50" r="2.2" fill="#0e0c8a"/>
<circle cx="92.00" cy="275.00" r="2.2" fill="#0e0c8a"/>
<circle cx="119.10" cy="278.40" r="2.2" fill="#0e0c8a"/>
<circle cx="126.20" cy="275.00" r="2.2" fill="#0e0c8a"/>
<circle cx="92.00" cy="285.20" r="2.2" fill="#0e0c8a"/>
<circle cx="119.30" cy="206.70" r="2.2" fill="#0e0c8a"/>
<circle cx="126.20" cy="229.10" r="2.2" fill="#0e0c8a"/>
<circle cx="64.40" cy="291.00" r="2.2" fill="#0e0c8a"/>
<line x1="202.20" y1="194.70" x2="202.20" y2="294.05" stroke="#111" stroke-width="1.1"/>
<line x1="201.70" y1="293.50" x2="349.80" y2="293.50" stroke="#111" stroke-width="1.1"/>
<line x1="198.20" y1="293.50" x2="202.20" y2="293.50" stroke="#111" stroke-width="1.1"/>
<text x="197.60" y="295.80" font-size="6.6" font-weight="bold" text-anchor="end" fill="#111" >0</text>
<line x1="199.90" y1="289.04" x2="202.20" y2="289.04" stroke="#111" stroke-width="1.1"/>
<line x1="199.90" y1="284.58" x2="202.20" y2="284.58" stroke="#111" stroke-width="1.1"/>
<line x1="199.90" y1="280.12" x2="202.20" y2="280.12" stroke="#111" stroke-width="1.1"/>
<line x1="199.90" y1="275.66" x2="202.20" y2="275.66" stroke="#111" stroke-width="1.1"/>
<line x1="199.90" y1="271.20" x2="202.20" y2="271.20" stroke="#111" stroke-width="1.1"/>
<line x1="199.90" y1="266.74" x2="202.20" y2="266.74" stroke="#111" stroke-width="1.1"/>
<line x1="199.90" y1="262.28" x2="202.20" y2="262.28" stroke="#111" stroke-width="1.1"/>
<line x1="199.90" y1="257.82" x2="202.20" y2="257.82" stroke="#111" stroke-width="1.1"/>
<line x1="199.90" y1="253.36" x2="202.20" y2="253.36" stroke="#111" stroke-width="1.1"/>
<line x1="198.20" y1="248.90" x2="202.20" y2="248.90" stroke="#111" stroke-width="1.1"/>
<text x="197.60" y="251.20" font-size="6.6" font-weight="bold" text-anchor="end" fill="#111" >50</text>
<line x1="199.90" y1="244.44" x2="202.20" y2="244.44" stroke="#111" stroke-width="1.1"/>
<line x1="199.90" y1="239.98" x2="202.20" y2="239.98" stroke="#111" stroke-width="1.1"/>
<line x1="199.90" y1="235.52" x2="202.20" y2="235.52" stroke="#111" stroke-width="1.1"/>
<line x1="199.90" y1="231.06" x2="202.20" y2="231.06" stroke="#111" stroke-width="1.1"/>
<line x1="199.90" y1="226.60" x2="202.20" y2="226.60" stroke="#111" stroke-width="1.1"/>
<line x1="199.90" y1="222.14" x2="202.20" y2="222.14" stroke="#111" stroke-width="1.1"/>
<line x1="199.90" y1="217.68" x2="202.20" y2="217.68" stroke="#111" stroke-width="1.1"/>
<line x1="199.90" y1="213.22" x2="202.20" y2="213.22" stroke="#111" stroke-width="1.1"/>
<line x1="199.90" y1="208.76" x2="202.20" y2="208.76" stroke="#111" stroke-width="1.1"/>
<line x1="198.20" y1="204.30" x2="202.20" y2="204.30" stroke="#111" stroke-width="1.1"/>
<text x="197.60" y="206.60" font-size="6.6" font-weight="bold" text-anchor="end" fill="#111" >100</text>
<line x1="199.90" y1="199.84" x2="202.20" y2="199.84" stroke="#111" stroke-width="1.1"/>
<line x1="199.90" y1="195.38" x2="202.20" y2="195.38" stroke="#111" stroke-width="1.1"/>
<line x1="202.20" y1="293.50" x2="202.20" y2="297.00" stroke="#111" stroke-width="1.1"/>
<text x="202.20" y="305.00" font-size="7.0" font-weight="bold" text-anchor="middle" fill="#111" >0</text>
<line x1="238.90" y1="293.50" x2="238.90" y2="297.00" stroke="#111" stroke-width="1.1"/>
<text x="238.90" y="305.00" font-size="7.0" font-weight="bold" text-anchor="middle" fill="#111" >20</text>
<line x1="275.70" y1="293.50" x2="275.70" y2="297.00" stroke="#111" stroke-width="1.1"/>
<text x="275.70" y="305.00" font-size="7.0" font-weight="bold" text-anchor="middle" fill="#111" >40</text>
<line x1="312.50" y1="293.50" x2="312.50" y2="297.00" stroke="#111" stroke-width="1.1"/>
<text x="312.50" y="305.00" font-size="7.0" font-weight="bold" text-anchor="middle" fill="#111" >60</text>
<line x1="349.30" y1="293.50" x2="349.30" y2="297.00" stroke="#111" stroke-width="1.1"/>
<text x="349.30" y="305.00" font-size="7.0" font-weight="bold" text-anchor="middle" fill="#111" >80</text>
<text x="276.05" y="316.80" font-size="8.6" font-weight="bold" text-anchor="middle" fill="#111" textLength="25.20" lengthAdjust="spacingAndGlyphs" >Months</text>
<text transform="translate(181.90,244.00) rotate(-90)" x="0" y="0" font-size="8.0" font-weight="bold" text-anchor="middle" fill="#111" textLength="60.00" lengthAdjust="spacingAndGlyphs">Probability of OS</text>
<path d="M202.20 204.30 L213.30 204.30 L213.30 208.00 L214.00 208.00 L214.00 212.30 L220.00 212.30 L220.00 216.60 L227.20 216.60 L227.20 220.60 L238.60 220.60 L238.60 224.50 L242.40 224.50 L242.40 228.40 L246.00 228.40 L246.00 232.70 L271.70 232.70 L271.70 236.50 L329.80 236.50" fill="none" stroke="#ff3d8f" stroke-width="1.3" stroke-linejoin="miter"/>
<path d="M202.20 204.30 L213.30 204.30 L213.30 209.00 L215.90 209.00 L215.90 214.70 L218.70 214.70 L218.70 219.90 L221.80 219.90 L221.80 225.30 L255.50 225.30 L255.50 230.50 L305.80 230.50 L305.80 237.00 L322.60 237.00 L322.60 250.70 L329.40 250.70" fill="none" stroke="#1c1a8e" stroke-width="1.3" stroke-linejoin="miter"/>
<line x1="295.00" y1="234.70" x2="295.00" y2="236.50" stroke="#ff3d8f" stroke-width="0.8"/>
<line x1="298.00" y1="234.70" x2="298.00" y2="236.50" stroke="#ff3d8f" stroke-width="0.8"/>
<line x1="301.00" y1="234.70" x2="301.00" y2="236.50" stroke="#ff3d8f" stroke-width="0.8"/>
<line x1="305.00" y1="234.70" x2="305.00" y2="236.50" stroke="#ff3d8f" stroke-width="0.8"/>
<line x1="310.00" y1="234.70" x2="310.00" y2="236.50" stroke="#ff3d8f" stroke-width="0.8"/>
<line x1="312.00" y1="234.70" x2="312.00" y2="236.50" stroke="#ff3d8f" stroke-width="0.8"/>
<line x1="314.00" y1="234.70" x2="314.00" y2="236.50" stroke="#ff3d8f" stroke-width="0.8"/>
<line x1="316.00" y1="234.70" x2="316.00" y2="236.50" stroke="#ff3d8f" stroke-width="0.8"/>
<line x1="318.00" y1="234.70" x2="318.00" y2="236.50" stroke="#ff3d8f" stroke-width="0.8"/>
<line x1="320.00" y1="234.70" x2="320.00" y2="236.50" stroke="#ff3d8f" stroke-width="0.8"/>
<line x1="323.00" y1="234.70" x2="323.00" y2="236.50" stroke="#ff3d8f" stroke-width="0.8"/>
<line x1="325.00" y1="234.70" x2="325.00" y2="236.50" stroke="#ff3d8f" stroke-width="0.8"/>
<line x1="328.00" y1="234.70" x2="328.00" y2="236.50" stroke="#ff3d8f" stroke-width="0.8"/>
<line x1="281.30" y1="228.70" x2="281.30" y2="230.50" stroke="#1c1a8e" stroke-width="0.8"/>
<line x1="300.10" y1="228.70" x2="300.10" y2="230.50" stroke="#1c1a8e" stroke-width="0.8"/>
<line x1="329.40" y1="248.90" x2="329.40" y2="250.70" stroke="#1c1a8e" stroke-width="0.8"/>
<text x="187.00" y="185.90" font-size="12.2" font-weight="bold" text-anchor="start" fill="#111" >F</text>
<text x="235.50" y="183.80" font-size="8.6" font-weight="bold" text-anchor="start" fill="#111" textLength="28.50" lengthAdjust="spacingAndGlyphs" >CXCR3</text>
<line x1="208.70" y1="261.00" x2="218.60" y2="261.00" stroke="#1c1a8e" stroke-width="1.2"/>
<line x1="213.65" y1="258.80" x2="213.65" y2="261.00" stroke="#1c1a8e" stroke-width="1.0"/>
<line x1="208.70" y1="273.30" x2="218.60" y2="273.30" stroke="#ff3d8f" stroke-width="1.2"/>
<line x1="213.65" y1="271.10" x2="213.65" y2="273.30" stroke="#ff3d8f" stroke-width="1.0"/>
<text x="223.70" y="263.00" font-size="5.6" font-weight="normal" text-anchor="start" fill="#333" textLength="73.30" lengthAdjust="spacingAndGlyphs" >CXCR3_Low(n=22), mOS=65.43</text>
<text x="223.70" y="275.30" font-size="5.6" font-weight="normal" text-anchor="start" fill="#333" textLength="83.30" lengthAdjust="spacingAndGlyphs" >CXCR3_High(n=17), mOS=Undefined</text>
<text x="225.20" y="285.60" font-size="5.3" font-weight="bold" text-anchor="start" fill="#111" textLength="74.20" lengthAdjust="spacingAndGlyphs" >p=0.831, Logrank test, X²=0.045</text>
<line x1="394.40" y1="195.00" x2="394.40" y2="294.35" stroke="#111" stroke-width="1.1"/>
<line x1="393.90" y1="293.80" x2="541.10" y2="293.80" stroke="#111" stroke-width="1.1"/>
<line x1="390.40" y1="293.80" x2="394.40" y2="293.80" stroke="#111" stroke-width="1.1"/>
<text x="389.80" y="296.10" font-size="6.6" font-weight="bold" text-anchor="end" fill="#111" >0</text>
<line x1="392.10" y1="289.34" x2="394.40" y2="289.34" stroke="#111" stroke-width="1.1"/>
<line x1="392.10" y1="284.87" x2="394.40" y2="284.87" stroke="#111" stroke-width="1.1"/>
<line x1="392.10" y1="280.41" x2="394.40" y2="280.41" stroke="#111" stroke-width="1.1"/>
<line x1="392.10" y1="275.94" x2="394.40" y2="275.94" stroke="#111" stroke-width="1.1"/>
<line x1="392.10" y1="271.48" x2="394.40" y2="271.48" stroke="#111" stroke-width="1.1"/>
<line x1="392.10" y1="267.01" x2="394.40" y2="267.01" stroke="#111" stroke-width="1.1"/>
<line x1="392.10" y1="262.55" x2="394.40" y2="262.55" stroke="#111" stroke-width="1.1"/>
<line x1="392.10" y1="258.08" x2="394.40" y2="258.08" stroke="#111" stroke-width="1.1"/>
<line x1="392.10" y1="253.62" x2="394.40" y2="253.62" stroke="#111" stroke-width="1.1"/>
<line x1="390.40" y1="249.15" x2="394.40" y2="249.15" stroke="#111" stroke-width="1.1"/>
<text x="389.80" y="251.45" font-size="6.6" font-weight="bold" text-anchor="end" fill="#111" >50</text>
<line x1="392.10" y1="244.69" x2="394.40" y2="244.69" stroke="#111" stroke-width="1.1"/>
<line x1="392.10" y1="240.22" x2="394.40" y2="240.22" stroke="#111" stroke-width="1.1"/>
<line x1="392.10" y1="235.75" x2="394.40" y2="235.75" stroke="#111" stroke-width="1.1"/>
<line x1="392.10" y1="231.29" x2="394.40" y2="231.29" stroke="#111" stroke-width="1.1"/>
<line x1="392.10" y1="226.82" x2="394.40" y2="226.82" stroke="#111" stroke-width="1.1"/>
<line x1="392.10" y1="222.36" x2="394.40" y2="222.36" stroke="#111" stroke-width="1.1"/>
<line x1="392.10" y1="217.89" x2="394.40" y2="217.89" stroke="#111" stroke-width="1.1"/>
<line x1="392.10" y1="213.43" x2="394.40" y2="213.43" stroke="#111" stroke-width="1.1"/>
<line x1="392.10" y1="208.97" x2="394.40" y2="208.97" stroke="#111" stroke-width="1.1"/>
<line x1="390.40" y1="204.50" x2="394.40" y2="204.50" stroke="#111" stroke-width="1.1"/>
<text x="389.80" y="206.80" font-size="6.6" font-weight="bold" text-anchor="end" fill="#111" >100</text>
<line x1="392.10" y1="200.03" x2="394.40" y2="200.03" stroke="#111" stroke-width="1.1"/>
<line x1="392.10" y1="195.57" x2="394.40" y2="195.57" stroke="#111" stroke-width="1.1"/>
<line x1="394.40" y1="293.80" x2="394.40" y2="297.30" stroke="#111" stroke-width="1.1"/>
<text x="394.40" y="305.30" font-size="7.0" font-weight="bold" text-anchor="middle" fill="#111" >0</text>
<line x1="431.00" y1="293.80" x2="431.00" y2="297.30" stroke="#111" stroke-width="1.1"/>
<text x="431.00" y="305.30" font-size="7.0" font-weight="bold" text-anchor="middle" fill="#111" >20</text>
<line x1="467.50" y1="293.80" x2="467.50" y2="297.30" stroke="#111" stroke-width="1.1"/>
<text x="467.50" y="305.30" font-size="7.0" font-weight="bold" text-anchor="middle" fill="#111" >40</text>
<line x1="504.10" y1="293.80" x2="504.10" y2="297.30" stroke="#111" stroke-width="1.1"/>
<text x="504.10" y="305.30" font-size="7.0" font-weight="bold" text-anchor="middle" fill="#111" >60</text>
<line x1="540.60" y1="293.80" x2="540.60" y2="297.30" stroke="#111" stroke-width="1.1"/>
<text x="540.60" y="305.30" font-size="7.0" font-weight="bold" text-anchor="middle" fill="#111" >80</text>
<text x="467.80" y="316.80" font-size="8.6" font-weight="bold" text-anchor="middle" fill="#111" textLength="25.20" lengthAdjust="spacingAndGlyphs" >Months</text>
<text transform="translate(372.50,244.80) rotate(-90)" x="0" y="0" font-size="8.0" font-weight="bold" text-anchor="middle" fill="#111" textLength="60.00" lengthAdjust="spacingAndGlyphs">Probability of OS</text>
<path d="M394.40 204.50 L404.70 204.50 L404.70 209.30 L405.30 209.30 L405.30 214.20 L406.00 214.20 L406.00 218.00 L412.30 218.00 L412.30 223.00 L430.30 223.00 L430.30 227.80 L434.50 227.80 L434.50 232.90 L437.40 232.90 L437.40 237.60 L463.40 237.60 L463.40 242.00 L519.10 242.00" fill="none" stroke="#ff3d8f" stroke-width="1.3" stroke-linejoin="miter"/>
<path d="M394.40 204.50 L407.80 204.50 L407.80 209.20 L409.50 209.20 L409.50 213.70 L414.20 213.70 L414.20 218.00 L418.80 218.00 L418.80 222.60 L447.30 222.60 L447.30 226.60 L497.30 226.60 L497.30 232.90 L514.20 232.90 L514.20 247.90 L521.00 247.90" fill="none" stroke="#1c1a8e" stroke-width="1.3" stroke-linejoin="miter"/>
<line x1="472.90" y1="240.20" x2="472.90" y2="242.00" stroke="#ff3d8f" stroke-width="0.8"/>
<line x1="487.50" y1="240.20" x2="487.50" y2="242.00" stroke="#ff3d8f" stroke-width="0.8"/>
<line x1="502.00" y1="240.20" x2="502.00" y2="242.00" stroke="#ff3d8f" stroke-width="0.8"/>
<line x1="504.40" y1="240.20" x2="504.40" y2="242.00" stroke="#ff3d8f" stroke-width="0.8"/>
<line x1="508.00" y1="240.20" x2="508.00" y2="242.00" stroke="#ff3d8f" stroke-width="0.8"/>
<line x1="510.00" y1="240.20" x2="510.00" y2="242.00" stroke="#ff3d8f" stroke-width="0.8"/>
<line x1="512.00" y1="240.20" x2="512.00" y2="242.00" stroke="#ff3d8f" stroke-width="0.8"/>
<line x1="514.00" y1="240.20" x2="514.00" y2="242.00" stroke="#ff3d8f" stroke-width="0.8"/>
<line x1="516.00" y1="240.20" x2="516.00" y2="242.00" stroke="#ff3d8f" stroke-width="0.8"/>
<line x1="518.60" y1="240.20" x2="518.60" y2="242.00" stroke="#ff3d8f" stroke-width="0.8"/>
<line x1="489.40" y1="224.80" x2="489.40" y2="226.60" stroke="#1c1a8e" stroke-width="0.8"/>
<line x1="491.00" y1="224.80" x2="491.00" y2="226.60" stroke="#1c1a8e" stroke-width="0.8"/>
<line x1="492.60" y1="224.80" x2="492.60" y2="226.60" stroke="#1c1a8e" stroke-width="0.8"/>
<line x1="494.20" y1="224.80" x2="494.20" y2="226.60" stroke="#1c1a8e" stroke-width="0.8"/>
<line x1="499.70" y1="231.10" x2="499.70" y2="232.90" stroke="#1c1a8e" stroke-width="0.8"/>
<line x1="506.80" y1="231.10" x2="506.80" y2="232.90" stroke="#1c1a8e" stroke-width="0.8"/>
<line x1="510.80" y1="231.10" x2="510.80" y2="232.90" stroke="#1c1a8e" stroke-width="0.8"/>
<line x1="521.00" y1="246.10" x2="521.00" y2="247.90" stroke="#1c1a8e" stroke-width="0.8"/>
<text x="379.00" y="185.90" font-size="12.2" font-weight="bold" text-anchor="start" fill="#111" >G</text>
<text x="427.40" y="183.80" font-size="8.6" font-weight="bold" text-anchor="start" fill="#111" textLength="27.60" lengthAdjust="spacingAndGlyphs" >CXCL9</text>
<line x1="400.20" y1="261.20" x2="410.10" y2="261.20" stroke="#1c1a8e" stroke-width="1.2"/>
<line x1="405.15" y1="259.00" x2="405.15" y2="261.20" stroke="#1c1a8e" stroke-width="1.0"/>
<line x1="400.20" y1="273.40" x2="410.10" y2="273.40" stroke="#ff3d8f" stroke-width="1.2"/>
<line x1="405.15" y1="271.20" x2="405.15" y2="273.40" stroke="#ff3d8f" stroke-width="1.0"/>
<text x="415.80" y="263.20" font-size="5.6" font-weight="normal" text-anchor="start" fill="#333" textLength="81.70" lengthAdjust="spacingAndGlyphs" >CXCL9_Low(n=19), mOS=Undefined</text>
<text x="415.80" y="275.40" font-size="5.6" font-weight="normal" text-anchor="start" fill="#333" textLength="81.70" lengthAdjust="spacingAndGlyphs" >CXCL9_High(n=20), mOS=Undefined</text>
<text x="417.50" y="287.10" font-size="5.3" font-weight="bold" text-anchor="start" fill="#111" textLength="73.60" lengthAdjust="spacingAndGlyphs" >p=0.582, Logrank test, X²=0.303</text>
<text x="564.00" y="189.80" font-size="11.8" font-weight="bold" text-anchor="start" fill="#111" >H</text>
<text x="614.70" y="192.90" font-size="8.6" font-weight="bold" text-anchor="start" fill="#111" textLength="26.00" lengthAdjust="spacingAndGlyphs" >CXCL9</text>
<text x="717.20" y="194.00" font-size="8.6" font-weight="bold" text-anchor="start" fill="#111" textLength="27.70" lengthAdjust="spacingAndGlyphs" >CXCR3</text>
<defs>
<filter color-interpolation-filters="sRGB" id="texB" filterUnits="userSpaceOnUse" x="550" y="200" width="250" height="90">
 <feTurbulence type="fractalNoise" baseFrequency="0.3" numOctaves="2" seed="4" result="dn"/>
 <feDisplacementMap in="SourceAlpha" in2="dn" scale="3.5" xChannelSelector="R" yChannelSelector="G" result="shape"/>
 <feTurbulence type="fractalNoise" baseFrequency="1.6" numOctaves="1" seed="3" result="n"/>
 <feColorMatrix in="n" type="matrix" values="1.0 0 0 0 0.16  0.85 0 0 0 0.265  0.3 0 0 0 0.67  0 0 0 0 1" result="col"/>
 <feComposite in="col" in2="shape" operator="in" result="tex"/>
 <feGaussianBlur in="tex" stdDeviation="0.45"/>
</filter>
<filter color-interpolation-filters="sRGB" id="texR" filterUnits="userSpaceOnUse" x="550" y="200" width="250" height="90">
 <feTurbulence type="fractalNoise" baseFrequency="0.3" numOctaves="2" seed="9" result="dn"/>
 <feDisplacementMap in="SourceAlpha" in2="dn" scale="3.5" xChannelSelector="R" yChannelSelector="G" result="shape"/>
 <feTurbulence type="fractalNoise" baseFrequency="1.5" numOctaves="1" seed="13" result="n"/>
 <feColorMatrix in="n" type="matrix" values="0.4 0.7 0 0 0.17  -0.4 0.7 0 0 0.47  -1.3 0.7 0 0 0.85  0 0 0 0 1" result="col"/>
 <feComposite in="col" in2="shape" operator="in" result="tex"/>
 <feGaussianBlur in="tex" stdDeviation="0.45"/>
</filter>
<filter color-interpolation-filters="sRGB" id="frag" filterUnits="userSpaceOnUse" x="550" y="200" width="250" height="90">
 <feTurbulence type="fractalNoise" baseFrequency="0.3" numOctaves="3" seed="5" result="n"/>
 <feColorMatrix in="n" type="matrix" values="0 0 0 0 0.52  0 0 0 0 0.58  0 0 0 0 0.82  8 0 0 0 -4.7" result="d"/>
 <feComposite in="d" in2="SourceAlpha" operator="in"/>
 <feGaussianBlur stdDeviation="0.3"/>
</filter>
<filter color-interpolation-filters="sRGB" id="blur06"><feGaussianBlur stdDeviation="0.6"/></filter>
<filter color-interpolation-filters="sRGB" id="blur03" x="-5%" y="-5%" width="110%" height="110%"><feGaussianBlur stdDeviation="0.3"/></filter>
<filter color-interpolation-filters="sRGB" id="blur1" x="-50%" y="-50%" width="200%" height="200%"><feGaussianBlur stdDeviation="1.0"/></filter>
<filter color-interpolation-filters="sRGB" id="blur2" x="-50%" y="-50%" width="200%" height="200%"><feGaussianBlur stdDeviation="2.0"/></filter>
<clipPath id="clip1"><rect x="558.0" y="204.4" width="121.2" height="80.4"/></clipPath>
<clipPath id="clip2"><rect x="681.4" y="204.4" width="117.6" height="80.4"/></clipPath>
</defs>
<defs><pattern id="pB1" patternUnits="userSpaceOnUse" width="23" height="19"><circle cx="3.1" cy="16.1" r="0.54" fill="#8089c0" fill-opacity="0.55"/><circle cx="17.5" cy="9.0" r="0.42" fill="#7480bc" fill-opacity="0.54"/><circle cx="0.7" cy="15.9" r="0.44" fill="#7480bc" fill-opacity="0.78"/><circle cx="6.1" cy="15.2" r="0.49" fill="#7480bc" fill-opacity="0.86"/><circle cx="0.7" cy="0.5" r="0.47" fill="#8089c0" fill-opacity="0.77"/><circle cx="22.3" cy="13.8" r="0.47" fill="#8089c0" fill-opacity="0.88"/><circle cx="12.7" cy="6.6" r="0.52" fill="#8089c0" fill-opacity="0.88"/><circle cx="21.3" cy="7.9" r="0.59" fill="#8c94c6" fill-opacity="0.54"/><circle cx="14.5" cy="13.7" r="0.39" fill="#8c94c6" fill-opacity="0.63"/><circle cx="16.6" cy="13.5" r="0.60" fill="#8089c0" fill-opacity="0.70"/><circle cx="20.9" cy="3.6" r="0.39" fill="#8089c0" fill-opacity="0.84"/><circle cx="11.6" cy="11.2" r="0.31" fill="#7480bc" fill-opacity="0.80"/><circle cx="9.3" cy="12.6" r="0.42" fill="#8c94c6" fill-opacity="0.81"/><circle cx="17.0" cy="1.6" r="0.51" fill="#7480bc" fill-opacity="0.81"/><circle cx="12.0" cy="7.5" r="0.46" fill="#7480bc" fill-opacity="0.69"/><circle cx="7.1" cy="16.1" r="0.50" fill="#8c94c6" fill-opacity="0.66"/><circle cx="3.9" cy="9.5" r="0.61" fill="#7480bc" fill-opacity="0.72"/><circle cx="19.8" cy="4.4" r="0.46" fill="#8c94c6" fill-opacity="0.64"/><circle cx="20.9" cy="12.5" r="0.49" fill="#8c94c6" fill-opacity="0.50"/><circle cx="18.0" cy="15.6" r="0.58" fill="#8c94c6" fill-opacity="0.70"/><circle cx="3.0" cy="14.8" r="0.37" fill="#7480bc" fill-opacity="0.69"/><circle cx="8.4" cy="10.5" r="0.60" fill="#8089c0" fill-opacity="0.69"/><circle cx="8.2" cy="6.6" r="0.47" fill="#8c94c6" fill-opacity="0.81"/><circle cx="7.6" cy="11.4" r="0.56" fill="#8c94c6" fill-opacity="0.57"/><circle cx="13.4" cy="16.4" r="0.56" fill="#8089c0" fill-opacity="0.51"/><circle cx="21.7" cy="1.3" r="0.58" fill="#8089c0" fill-opacity="0.51"/><circle cx="17.4" cy="4.7" r="0.34" fill="#8c94c6" fill-opacity="0.57"/><circle cx="6.7" cy="3.2" r="0.38" fill="#7480bc" fill-opacity="0.76"/><circle cx="14.9" cy="5.6" r="0.52" fill="#8089c0" fill-opacity="0.69"/><circle cx="0.5" cy="7.3" r="0.43" fill="#7480bc" fill-opacity="0.60"/><circle cx="5.8" cy="13.9" r="0.61" fill="#8c94c6" fill-opacity="0.67"/><circle cx="22.4" cy="4.3" r="0.43" fill="#7480bc" fill-opacity="0.79"/><circle cx="3.7" cy="13.4" r="0.52" fill="#8c94c6" fill-opacity="0.83"/><circle cx="22.5" cy="12.0" r="0.52" fill="#8089c0" fill-opacity="0.59"/><circle cx="14.9" cy="7.5" r="0.48" fill="#8089c0" fill-opacity="0.76"/><circle cx="9.8" cy="14.0" r="0.34" fill="#7480bc" fill-opacity="0.85"/><circle cx="7.0" cy="16.3" r="0.40" fill="#8089c0" fill-opacity="0.80"/><circle cx="9.6" cy="4.8" r="0.30" fill="#7480bc" fill-opacity="0.74"/><circle cx="5.0" cy="17.1" r="0.45" fill="#8c94c6" fill-opacity="0.75"/><circle cx="0.9" cy="3.8" r="0.33" fill="#8c94c6" fill-opacity="0.77"/><circle cx="10.0" cy="3.7" r="0.33" fill="#8c94c6" fill-opacity="0.66"/><circle cx="11.6" cy="0.3" r="0.50" fill="#8089c0" fill-opacity="0.86"/><circle cx="11.6" cy="19.3" r="0.50" fill="#8089c0" fill-opacity="0.86"/><circle cx="0.4" cy="3.8" r="0.40" fill="#8c94c6" fill-opacity="0.81"/><circle cx="7.8" cy="4.0" r="0.52" fill="#8089c0" fill-opacity="0.87"/><circle cx="7.9" cy="16.8" r="0.52" fill="#8089c0" fill-opacity="0.81"/><circle cx="12.2" cy="1.2" r="0.31" fill="#7480bc" fill-opacity="0.57"/><circle cx="21.0" cy="4.0" r="0.54" fill="#8c94c6" fill-opacity="0.70"/><circle cx="5.9" cy="6.4" r="0.34" fill="#7480bc" fill-opacity="0.85"/><circle cx="13.9" cy="18.1" r="0.58" fill="#7480bc" fill-opacity="0.73"/><circle cx="17.7" cy="6.1" r="0.43" fill="#8089c0" fill-opacity="0.85"/><circle cx="18.1" cy="15.7" r="0.41" fill="#8c94c6" fill-opacity="0.73"/><circle cx="21.3" cy="1.5" r="0.48" fill="#8c94c6" fill-opacity="0.53"/><circle cx="6.1" cy="16.9" r="0.48" fill="#7480bc" fill-opacity="0.68"/><circle cx="6.4" cy="15.0" r="0.56" fill="#7480bc" fill-opacity="0.75"/><circle cx="0.3" cy="7.9" r="0.56" fill="#7480bc" fill-opacity="0.58"/><circle cx="23.3" cy="7.9" r="0.56" fill="#7480bc" fill-opacity="0.58"/><circle cx="18.1" cy="11.1" r="0.35" fill="#8089c0" fill-opacity="0.57"/><circle cx="5.6" cy="14.1" r="0.33" fill="#8089c0" fill-opacity="0.82"/><circle cx="12.5" cy="15.5" r="0.48" fill="#8c94c6" fill-opacity="0.69"/><circle cx="2.3" cy="12.4" r="0.31" fill="#7480bc" fill-opacity="0.81"/><circle cx="21.3" cy="13.8" r="0.40" fill="#8089c0" fill-opacity="0.63"/><circle cx="1.4" cy="17.4" r="0.61" fill="#8089c0" fill-opacity="0.54"/><circle cx="4.9" cy="11.7" r="0.61" fill="#8c94c6" fill-opacity="0.85"/><circle cx="10.8" cy="6.8" r="0.36" fill="#7480bc" fill-opacity="0.62"/><circle cx="5.7" cy="1.5" r="0.39" fill="#8089c0" fill-opacity="0.54"/><circle cx="13.2" cy="6.4" r="0.37" fill="#8089c0" fill-opacity="0.52"/><circle cx="4.3" cy="15.1" r="0.49" fill="#8089c0" fill-opacity="0.60"/><circle cx="2.3" cy="11.6" r="0.56" fill="#7480bc" fill-opacity="0.60"/><circle cx="0.5" cy="4.6" r="0.32" fill="#8c94c6" fill-opacity="0.85"/><circle cx="16.8" cy="0.4" r="0.30" fill="#8089c0" fill-opacity="0.70"/><circle cx="19.8" cy="2.9" r="0.46" fill="#8089c0" fill-opacity="0.53"/><circle cx="21.8" cy="3.3" r="0.55" fill="#7480bc" fill-opacity="0.83"/><circle cx="7.4" cy="2.0" r="0.46" fill="#8c94c6" fill-opacity="0.62"/><circle cx="20.6" cy="2.7" r="0.59" fill="#7480bc" fill-opacity="0.81"/><circle cx="18.9" cy="11.8" r="0.52" fill="#8c94c6" fill-opacity="0.84"/><circle cx="17.2" cy="13.1" r="0.36" fill="#8089c0" fill-opacity="0.71"/><circle cx="1.1" cy="16.4" r="0.38" fill="#7480bc" fill-opacity="0.77"/><circle cx="10.3" cy="8.2" r="0.38" fill="#8089c0" fill-opacity="0.84"/><circle cx="10.4" cy="7.5" r="0.41" fill="#8089c0" fill-opacity="0.69"/><circle cx="18.2" cy="17.7" r="0.61" fill="#7480bc" fill-opacity="0.52"/><circle cx="8.2" cy="2.6" r="0.34" fill="#8089c0" fill-opacity="0.89"/><circle cx="6.4" cy="10.7" r="0.36" fill="#7480bc" fill-opacity="0.59"/><circle cx="0.2" cy="10.0" r="0.46" fill="#8c94c6" fill-opacity="0.87"/><circle cx="23.2" cy="10.0" r="0.46" fill="#8c94c6" fill-opacity="0.87"/><circle cx="21.4" cy="12.1" r="0.37" fill="#8089c0" fill-opacity="0.70"/><circle cx="11.0" cy="4.3" r="0.43" fill="#8c94c6" fill-opacity="0.74"/><circle cx="16.7" cy="12.4" r="0.61" fill="#7480bc" fill-opacity="0.52"/><circle cx="1.6" cy="9.7" r="0.58" fill="#7480bc" fill-opacity="0.70"/><circle cx="18.2" cy="3.9" r="0.40" fill="#8089c0" fill-opacity="0.84"/><circle cx="8.5" cy="13.3" r="0.54" fill="#8c94c6" fill-opacity="0.53"/><circle cx="2.8" cy="11.5" r="0.46" fill="#8089c0" fill-opacity="0.57"/><circle cx="5.8" cy="4.1" r="0.48" fill="#7480bc" fill-opacity="0.70"/><circle cx="9.1" cy="12.1" r="0.42" fill="#7480bc" fill-opacity="0.72"/><circle cx="22.9" cy="10.0" r="0.33" fill="#8089c0" fill-opacity="0.75"/><circle cx="-0.1" cy="10.0" r="0.33" fill="#8089c0" fill-opacity="0.75"/><circle cx="6.2" cy="17.3" r="0.61" fill="#7480bc" fill-opacity="0.89"/><circle cx="14.2" cy="18.4" r="0.52" fill="#7480bc" fill-opacity="0.68"/><circle cx="21.3" cy="18.5" r="0.42" fill="#8089c0" fill-opacity="0.66"/><circle cx="20.9" cy="8.3" r="0.50" fill="#8089c0" fill-opacity="0.88"/><circle cx="2.7" cy="11.4" r="0.43" fill="#7480bc" fill-opacity="0.76"/><circle cx="6.4" cy="7.2" r="0.48" fill="#7480bc" fill-opacity="0.71"/><circle cx="13.3" cy="0.6" r="0.61" fill="#7480bc" fill-opacity="0.83"/><circle cx="13.3" cy="19.6" r="0.61" fill="#7480bc" fill-opacity="0.83"/><circle cx="4.8" cy="5.4" r="0.47" fill="#8089c0" fill-opacity="0.62"/><circle cx="17.4" cy="15.8" r="0.44" fill="#7480bc" fill-opacity="0.72"/><circle cx="11.3" cy="16.3" r="0.55" fill="#8c94c6" fill-opacity="0.85"/><circle cx="4.7" cy="15.4" r="0.59" fill="#7480bc" fill-opacity="0.55"/><circle cx="17.2" cy="10.4" r="0.61" fill="#8c94c6" fill-opacity="0.89"/><circle cx="3.1" cy="9.5" r="0.48" fill="#8089c0" fill-opacity="0.67"/><circle cx="15.6" cy="14.4" r="0.40" fill="#7480bc" fill-opacity="0.68"/><circle cx="10.3" cy="5.8" r="0.43" fill="#8c94c6" fill-opacity="0.77"/><circle cx="11.3" cy="12.3" r="0.42" fill="#7480bc" fill-opacity="0.72"/><circle cx="22.9" cy="12.1" r="0.53" fill="#8c94c6" fill-opacity="0.83"/><circle cx="-0.1" cy="12.1" r="0.53" fill="#8c94c6" fill-opacity="0.83"/><circle cx="11.8" cy="18.8" r="0.45" fill="#8c94c6" fill-opacity="0.66"/><circle cx="11.8" cy="-0.2" r="0.45" fill="#8c94c6" fill-opacity="0.66"/><circle cx="17.1" cy="18.8" r="0.40" fill="#7480bc" fill-opacity="0.68"/><circle cx="17.1" cy="-0.2" r="0.40" fill="#7480bc" fill-opacity="0.68"/><circle cx="15.4" cy="3.7" r="0.47" fill="#8c94c6" fill-opacity="0.66"/><circle cx="9.8" cy="7.7" r="0.58" fill="#8c94c6" fill-opacity="0.89"/><circle cx="16.1" cy="18.4" r="0.32" fill="#8c94c6" fill-opacity="0.60"/><circle cx="22.2" cy="5.5" r="0.31" fill="#8c94c6" fill-opacity="0.75"/><circle cx="14.6" cy="17.8" r="0.55" fill="#7480bc" fill-opacity="0.81"/><circle cx="18.8" cy="11.5" r="0.41" fill="#8089c0" fill-opacity="0.82"/><circle cx="9.5" cy="13.0" r="0.40" fill="#8089c0" fill-opacity="0.83"/><circle cx="11.1" cy="8.9" r="0.31" fill="#8c94c6" fill-opacity="0.54"/><circle cx="13.6" cy="1.3" r="0.32" fill="#8089c0" fill-opacity="0.51"/><circle cx="11.7" cy="18.0" r="0.52" fill="#8089c0" fill-opacity="0.75"/><circle cx="6.3" cy="5.8" r="0.47" fill="#7480bc" fill-opacity="0.85"/><circle cx="6.2" cy="1.4" r="0.57" fill="#8c94c6" fill-opacity="0.76"/><circle cx="10.8" cy="10.6" r="0.32" fill="#8089c0" fill-opacity="0.76"/><circle cx="16.4" cy="15.5" r="0.39" fill="#8c94c6" fill-opacity="0.80"/><circle cx="9.0" cy="7.6" r="0.45" fill="#8089c0" fill-opacity="0.85"/><circle cx="7.6" cy="4.2" r="0.61" fill="#8c94c6" fill-opacity="0.60"/><circle cx="15.2" cy="16.2" r="0.58" fill="#8089c0" fill-opacity="0.63"/><circle cx="9.9" cy="14.5" r="0.55" fill="#7480bc" fill-opacity="0.53"/><circle cx="16.8" cy="16.6" r="0.49" fill="#8c94c6" fill-opacity="0.87"/><circle cx="16.7" cy="11.5" r="0.38" fill="#8c94c6" fill-opacity="0.57"/><circle cx="17.9" cy="17.0" r="0.44" fill="#8089c0" fill-opacity="0.80"/><circle cx="5.5" cy="13.6" r="0.53" fill="#8089c0" fill-opacity="0.53"/><circle cx="5.2" cy="6.1" r="0.60" fill="#7480bc" fill-opacity="0.52"/><circle cx="18.6" cy="0.4" r="0.54" fill="#8c94c6" fill-opacity="0.51"/><circle cx="18.6" cy="19.4" r="0.54" fill="#8c94c6" fill-opacity="0.51"/><circle cx="16.2" cy="15.5" r="0.61" fill="#8c94c6" fill-opacity="0.68"/><circle cx="15.2" cy="5.2" r="0.50" fill="#7480bc" fill-opacity="0.54"/><circle cx="9.2" cy="9.4" r="0.42" fill="#7480bc" fill-opacity="0.89"/><circle cx="5.4" cy="5.4" r="0.48" fill="#8089c0" fill-opacity="0.58"/><circle cx="16.4" cy="6.3" r="0.49" fill="#7480bc" fill-opacity="0.90"/><circle cx="1.1" cy="15.2" r="0.57" fill="#8089c0" fill-opacity="0.86"/><circle cx="19.5" cy="5.5" r="0.36" fill="#7480bc" fill-opacity="0.85"/><circle cx="17.4" cy="2.9" r="0.59" fill="#7480bc" fill-opacity="0.65"/><circle cx="20.2" cy="10.3" r="0.48" fill="#8089c0" fill-opacity="0.55"/><circle cx="10.6" cy="16.0" r="0.59" fill="#7480bc" fill-opacity="0.71"/><circle cx="12.1" cy="2.4" r="0.60" fill="#7480bc" fill-opacity="0.67"/><circle cx="4.4" cy="9.5" r="0.34" fill="#8089c0" fill-opacity="0.77"/><circle cx="19.4" cy="12.6" r="0.42" fill="#8c94c6" fill-opacity="0.61"/><circle cx="6.0" cy="12.1" r="0.38" fill="#8c94c6" fill-opacity="0.87"/><circle cx="13.6" cy="6.6" r="0.49" fill="#8c94c6" fill-opacity="0.76"/></pattern><pattern id="pB2" patternUnits="userSpaceOnUse" width="29" height="31"><circle cx="27.7" cy="29.4" r="0.32" fill="#dad9e2" fill-opacity="0.74"/><circle cx="4.9" cy="25.1" r="0.60" fill="#949ac6" fill-opacity="0.84"/><circle cx="17.6" cy="18.0" r="0.36" fill="#aab0d4" fill-opacity="0.86"/><circle cx="23.3" cy="26.7" r="0.48" fill="#949ac6" fill-opacity="0.82"/><circle cx="12.9" cy="8.3" r="0.31" fill="#dad9e2" fill-opacity="0.75"/><circle cx="27.0" cy="28.1" r="0.45" fill="#b8a4a4" fill-opacity="0.67"/><circle cx="5.1" cy="7.1" r="0.36" fill="#c8cadc" fill-opacity="0.65"/><circle cx="14.8" cy="31.0" r="0.54" fill="#c8cadc" fill-opacity="1.00"/><circle cx="14.8" cy="-0.0" r="0.54" fill="#c8cadc" fill-opacity="1.00"/><circle cx="12.9" cy="12.9" r="0.48" fill="#949ac6" fill-opacity="0.92"/><circle cx="10.3" cy="30.4" r="0.64" fill="#c8cadc" fill-opacity="0.98"/><circle cx="10.3" cy="-0.6" r="0.64" fill="#c8cadc" fill-opacity="0.98"/><circle cx="11.6" cy="22.9" r="0.53" fill="#c8cadc" fill-opacity="0.80"/><circle cx="26.8" cy="15.5" r="0.59" fill="#949ac6" fill-opacity="0.86"/><circle cx="13.2" cy="28.0" r="0.42" fill="#b8a4a4" fill-opacity="0.89"/><circle cx="14.1" cy="6.9" r="0.41" fill="#c8cadc" fill-opacity="0.95"/><circle cx="17.9" cy="24.0" r="0.47" fill="#949ac6" fill-opacity="0.98"/><circle cx="20.5" cy="15.6" r="0.48" fill="#b8a4a4" fill-opacity="0.84"/><circle cx="9.0" cy="6.4" r="0.48" fill="#b8a4a4" fill-opacity="0.95"/><circle cx="22.7" cy="10.6" r="0.30" fill="#c8cadc" fill-opacity="1.00"/><circle cx="3.1" cy="17.8" r="0.32" fill="#b8a4a4" fill-opacity="0.69"/><circle cx="25.4" cy="3.3" r="0.48" fill="#949ac6" fill-opacity="0.70"/><circle cx="6.1" cy="27.3" r="0.45" fill="#dad9e2" fill-opacity="0.62"/><circle cx="10.4" cy="7.7" r="0.31" fill="#dad9e2" fill-opacity="0.98"/><circle cx="0.7" cy="22.6" r="0.31" fill="#949ac6" fill-opacity="0.65"/><circle cx="27.1" cy="22.8" r="0.48" fill="#dad9e2" fill-opacity="0.75"/><circle cx="1.3" cy="30.7" r="0.35" fill="#dad9e2" fill-opacity="0.60"/><circle cx="1.3" cy="-0.3" r="0.35" fill="#dad9e2" fill-opacity="0.60"/><circle cx="27.2" cy="19.5" r="0.56" fill="#949ac6" fill-opacity="0.73"/><circle cx="0.9" cy="13.9" r="0.57" fill="#dad9e2" fill-opacity="0.96"/><circle cx="21.9" cy="26.7" r="0.55" fill="#aab0d4" fill-opacity="0.98"/><circle cx="2.7" cy="21.3" r="0.59" fill="#dad9e2" fill-opacity="0.78"/><circle cx="25.4" cy="4.0" r="0.50" fill="#aab0d4" fill-opacity="0.79"/><circle cx="9.5" cy="27.1" r="0.42" fill="#949ac6" fill-opacity="0.84"/><circle cx="12.2" cy="0.6" r="0.50" fill="#c8cadc" fill-opacity="0.87"/><circle cx="7.3" cy="4.1" r="0.36" fill="#aab0d4" fill-opacity="0.85"/><circle cx="14.7" cy="30.5" r="0.63" fill="#c8cadc" fill-opacity="0.69"/><circle cx="14.7" cy="-0.5" r="0.63" fill="#c8cadc" fill-opacity="0.69"/><circle cx="12.9" cy="7.8" r="0.51" fill="#b8a4a4" fill-opacity="0.92"/><circle cx="18.1" cy="11.2" r="0.54" fill="#949ac6" fill-opacity="0.81"/><circle cx="0.1" cy="1.1" r="0.44" fill="#dad9e2" fill-opacity="0.80"/><circle cx="29.1" cy="1.1" r="0.44" fill="#dad9e2" fill-opacity="0.80"/><circle cx="2.5" cy="3.2" r="0.31" fill="#c8cadc" fill-opacity="0.64"/><circle cx="0.7" cy="20.8" r="0.46" fill="#b8a4a4" fill-opacity="0.86"/><circle cx="6.2" cy="28.1" r="0.64" fill="#aab0d4" fill-opacity="0.77"/><circle cx="0.6" cy="18.3" r="0.61" fill="#b8a4a4" fill-opacity="0.83"/><circle cx="26.7" cy="20.6" r="0.47" fill="#dad9e2" fill-opacity="0.81"/><circle cx="26.7" cy="18.9" r="0.40" fill="#949ac6" fill-opacity="0.72"/><circle cx="25.4" cy="12.8" r="0.34" fill="#c8cadc" fill-opacity="0.94"/><circle cx="19.5" cy="0.5" r="0.46" fill="#aab0d4" fill-opacity="0.85"/><circle cx="13.4" cy="27.6" r="0.51" fill="#dad9e2" fill-opacity="0.71"/><circle cx="10.8" cy="29.0" r="0.33" fill="#aab0d4" fill-opacity="0.68"/><circle cx="16.6" cy="12.1" r="0.46" fill="#949ac6" fill-opacity="0.76"/><circle cx="3.5" cy="3.8" r="0.33" fill="#949ac6" fill-opacity="0.86"/><circle cx="27.8" cy="21.5" r="0.31" fill="#aab0d4" fill-opacity="0.91"/><circle cx="21.0" cy="15.4" r="0.43" fill="#aab0d4" fill-opacity="0.66"/><circle cx="10.9" cy="15.0" r="0.60" fill="#aab0d4" fill-opacity="0.97"/><circle cx="24.2" cy="9.2" r="0.38" fill="#aab0d4" fill-opacity="0.84"/><circle cx="15.9" cy="21.6" r="0.54" fill="#dad9e2" fill-opacity="0.83"/><circle cx="23.7" cy="3.0" r="0.42" fill="#b8a4a4" fill-opacity="0.66"/><circle cx="12.1" cy="2.1" r="0.33" fill="#dad9e2" fill-opacity="0.65"/><circle cx="8.6" cy="7.2" r="0.53" fill="#949ac6" fill-opacity="0.78"/><circle cx="15.2" cy="3.5" r="0.49" fill="#aab0d4" fill-opacity="0.64"/><circle cx="15.0" cy="22.2" r="0.39" fill="#c8cadc" fill-opacity="0.78"/><circle cx="20.4" cy="12.5" r="0.65" fill="#b8a4a4" fill-opacity="0.89"/><circle cx="13.5" cy="22.3" r="0.58" fill="#aab0d4" fill-opacity="0.95"/><circle cx="5.2" cy="15.8" r="0.47" fill="#aab0d4" fill-opacity="0.70"/><circle cx="21.2" cy="12.8" r="0.53" fill="#949ac6" fill-opacity="0.98"/><circle cx="9.6" cy="23.1" r="0.53" fill="#c8cadc" fill-opacity="0.81"/><circle cx="5.4" cy="25.3" r="0.43" fill="#dad9e2" fill-opacity="0.73"/><circle cx="15.2" cy="28.1" r="0.46" fill="#c8cadc" fill-opacity="0.93"/><circle cx="0.5" cy="29.2" r="0.56" fill="#b8a4a4" fill-opacity="0.75"/><circle cx="29.5" cy="29.2" r="0.56" fill="#b8a4a4" fill-opacity="0.75"/><circle cx="6.2" cy="30.2" r="0.44" fill="#b8a4a4" fill-opacity="0.91"/><circle cx="5.8" cy="23.1" r="0.51" fill="#c8cadc" fill-opacity="0.80"/><circle cx="17.7" cy="0.3" r="0.54" fill="#aab0d4" fill-opacity="0.70"/><circle cx="17.7" cy="31.3" r="0.54" fill="#aab0d4" fill-opacity="0.70"/><circle cx="16.4" cy="14.5" r="0.37" fill="#dad9e2" fill-opacity="0.74"/><circle cx="26.3" cy="16.5" r="0.53" fill="#dad9e2" fill-opacity="0.90"/><circle cx="14.1" cy="20.9" r="0.42" fill="#949ac6" fill-opacity="0.95"/><circle cx="13.3" cy="30.6" r="0.51" fill="#949ac6" fill-opacity="0.67"/><circle cx="13.3" cy="-0.4" r="0.51" fill="#949ac6" fill-opacity="0.67"/><circle cx="21.8" cy="24.3" r="0.44" fill="#c8cadc" fill-opacity="0.62"/><circle cx="14.5" cy="30.8" r="0.54" fill="#c8cadc" fill-opacity="0.60"/><circle cx="14.5" cy="-0.2" r="0.54" fill="#c8cadc" fill-opacity="0.60"/><circle cx="16.2" cy="30.0" r="0.43" fill="#b8a4a4" fill-opacity="0.94"/><circle cx="16.4" cy="6.3" r="0.54" fill="#aab0d4" fill-opacity="0.86"/><circle cx="14.0" cy="16.7" r="0.62" fill="#dad9e2" fill-opacity="0.70"/><circle cx="9.1" cy="10.3" r="0.63" fill="#949ac6" fill-opacity="0.86"/><circle cx="11.4" cy="26.1" r="0.33" fill="#c8cadc" fill-opacity="0.76"/><circle cx="15.4" cy="26.4" r="0.58" fill="#dad9e2" fill-opacity="0.72"/><circle cx="6.8" cy="14.2" r="0.38" fill="#949ac6" fill-opacity="0.62"/><circle cx="3.2" cy="20.9" r="0.58" fill="#949ac6" fill-opacity="0.69"/><circle cx="10.3" cy="10.4" r="0.43" fill="#aab0d4" fill-opacity="0.78"/><circle cx="8.5" cy="27.7" r="0.62" fill="#aab0d4" fill-opacity="1.00"/><circle cx="6.3" cy="8.5" r="0.36" fill="#c8cadc" fill-opacity="0.79"/><circle cx="21.8" cy="26.2" r="0.36" fill="#c8cadc" fill-opacity="0.92"/><circle cx="6.8" cy="25.1" r="0.52" fill="#aab0d4" fill-opacity="0.92"/><circle cx="21.7" cy="8.7" r="0.55" fill="#b8a4a4" fill-opacity="0.80"/><circle cx="20.0" cy="29.4" r="0.56" fill="#949ac6" fill-opacity="0.81"/><circle cx="18.5" cy="2.3" r="0.41" fill="#aab0d4" fill-opacity="0.67"/><circle cx="27.8" cy="11.0" r="0.47" fill="#c8cadc" fill-opacity="0.73"/><circle cx="11.0" cy="30.0" r="0.34" fill="#c8cadc" fill-opacity="0.74"/><circle cx="26.6" cy="27.4" r="0.57" fill="#aab0d4" fill-opacity="0.60"/><circle cx="9.3" cy="25.6" r="0.51" fill="#b8a4a4" fill-opacity="0.71"/><circle cx="18.5" cy="4.7" r="0.41" fill="#aab0d4" fill-opacity="0.64"/><circle cx="4.1" cy="6.3" r="0.39" fill="#aab0d4" fill-opacity="0.74"/><circle cx="2.6" cy="5.8" r="0.55" fill="#b8a4a4" fill-opacity="0.62"/><circle cx="27.3" cy="20.1" r="0.51" fill="#c8cadc" fill-opacity="0.67"/><circle cx="1.8" cy="13.8" r="0.40" fill="#949ac6" fill-opacity="0.81"/><circle cx="24.5" cy="10.5" r="0.57" fill="#b8a4a4" fill-opacity="0.98"/><circle cx="6.6" cy="1.7" r="0.57" fill="#aab0d4" fill-opacity="0.85"/><circle cx="9.2" cy="26.0" r="0.51" fill="#b8a4a4" fill-opacity="0.80"/><circle cx="19.3" cy="15.4" r="0.44" fill="#aab0d4" fill-opacity="0.67"/><circle cx="11.2" cy="14.0" r="0.61" fill="#aab0d4" fill-opacity="1.00"/><circle cx="3.7" cy="29.1" r="0.54" fill="#c8cadc" fill-opacity="0.63"/><circle cx="8.9" cy="24.7" r="0.30" fill="#dad9e2" fill-opacity="0.87"/><circle cx="6.4" cy="0.8" r="0.45" fill="#dad9e2" fill-opacity="0.73"/><circle cx="23.8" cy="14.4" r="0.60" fill="#aab0d4" fill-opacity="0.70"/><circle cx="14.0" cy="17.3" r="0.35" fill="#b8a4a4" fill-opacity="0.82"/><circle cx="1.4" cy="16.9" r="0.30" fill="#b8a4a4" fill-opacity="0.74"/><circle cx="15.3" cy="7.4" r="0.43" fill="#dad9e2" fill-opacity="0.65"/><circle cx="3.4" cy="3.4" r="0.37" fill="#dad9e2" fill-opacity="0.85"/><circle cx="18.2" cy="10.4" r="0.53" fill="#aab0d4" fill-opacity="0.96"/><circle cx="20.8" cy="15.7" r="0.62" fill="#c8cadc" fill-opacity="0.80"/><circle cx="24.2" cy="4.7" r="0.64" fill="#c8cadc" fill-opacity="0.75"/><circle cx="8.6" cy="13.4" r="0.45" fill="#aab0d4" fill-opacity="0.73"/><circle cx="8.7" cy="3.1" r="0.33" fill="#949ac6" fill-opacity="0.71"/><circle cx="22.2" cy="30.6" r="0.38" fill="#c8cadc" fill-opacity="0.88"/><circle cx="19.1" cy="0.9" r="0.49" fill="#c8cadc" fill-opacity="0.68"/><circle cx="11.4" cy="1.2" r="0.35" fill="#dad9e2" fill-opacity="0.90"/><circle cx="20.4" cy="14.7" r="0.32" fill="#c8cadc" fill-opacity="0.93"/><circle cx="17.3" cy="1.2" r="0.37" fill="#dad9e2" fill-opacity="0.66"/><circle cx="20.1" cy="28.4" r="0.57" fill="#dad9e2" fill-opacity="0.99"/><circle cx="26.1" cy="14.4" r="0.40" fill="#c8cadc" fill-opacity="0.66"/><circle cx="9.4" cy="25.4" r="0.60" fill="#b8a4a4" fill-opacity="0.83"/><circle cx="12.0" cy="12.9" r="0.55" fill="#aab0d4" fill-opacity="0.72"/><circle cx="25.0" cy="19.7" r="0.56" fill="#dad9e2" fill-opacity="0.69"/><circle cx="9.7" cy="16.7" r="0.44" fill="#b8a4a4" fill-opacity="0.90"/><circle cx="25.9" cy="13.3" r="0.35" fill="#c8cadc" fill-opacity="0.91"/><circle cx="13.0" cy="14.1" r="0.42" fill="#aab0d4" fill-opacity="0.85"/><circle cx="17.8" cy="18.0" r="0.46" fill="#aab0d4" fill-opacity="0.94"/><circle cx="9.8" cy="2.2" r="0.43" fill="#aab0d4" fill-opacity="0.69"/><circle cx="17.9" cy="20.4" r="0.61" fill="#949ac6" fill-opacity="0.95"/><circle cx="15.5" cy="25.5" r="0.33" fill="#dad9e2" fill-opacity="0.68"/><circle cx="9.1" cy="9.9" r="0.39" fill="#949ac6" fill-opacity="0.93"/><circle cx="2.1" cy="14.6" r="0.55" fill="#949ac6" fill-opacity="0.83"/><circle cx="3.8" cy="4.7" r="0.51" fill="#aab0d4" fill-opacity="0.89"/><circle cx="18.4" cy="13.9" r="0.40" fill="#dad9e2" fill-opacity="0.80"/><circle cx="23.2" cy="28.4" r="0.35" fill="#949ac6" fill-opacity="0.94"/><circle cx="24.8" cy="7.0" r="0.52" fill="#949ac6" fill-opacity="0.84"/><circle cx="20.4" cy="16.2" r="0.38" fill="#c8cadc" fill-opacity="0.82"/><circle cx="7.6" cy="7.7" r="0.63" fill="#aab0d4" fill-opacity="0.93"/><circle cx="3.5" cy="14.1" r="0.44" fill="#aab0d4" fill-opacity="0.71"/><circle cx="7.0" cy="1.7" r="0.48" fill="#dad9e2" fill-opacity="0.84"/><circle cx="15.8" cy="0.1" r="0.44" fill="#aab0d4" fill-opacity="0.76"/><circle cx="15.8" cy="31.1" r="0.44" fill="#aab0d4" fill-opacity="0.76"/><circle cx="14.9" cy="3.1" r="0.48" fill="#b8a4a4" fill-opacity="0.98"/><circle cx="14.3" cy="2.2" r="0.46" fill="#c8cadc" fill-opacity="0.71"/><circle cx="0.9" cy="1.3" r="0.53" fill="#c8cadc" fill-opacity="0.73"/><circle cx="15.6" cy="19.1" r="0.53" fill="#dad9e2" fill-opacity="0.86"/><circle cx="15.7" cy="21.0" r="0.35" fill="#c8cadc" fill-opacity="0.61"/><circle cx="14.8" cy="8.3" r="0.32" fill="#b8a4a4" fill-opacity="0.74"/><circle cx="9.9" cy="28.6" r="0.51" fill="#dad9e2" fill-opacity="0.84"/><circle cx="10.1" cy="24.6" r="0.63" fill="#949ac6" fill-opacity="0.92"/><circle cx="26.0" cy="15.8" r="0.64" fill="#dad9e2" fill-opacity="0.62"/><circle cx="12.6" cy="19.6" r="0.42" fill="#b8a4a4" fill-opacity="0.89"/><circle cx="25.0" cy="2.4" r="0.49" fill="#b8a4a4" fill-opacity="0.91"/><circle cx="12.4" cy="7.4" r="0.36" fill="#b8a4a4" fill-opacity="0.62"/><circle cx="17.2" cy="30.0" r="0.59" fill="#c8cadc" fill-opacity="0.72"/><circle cx="26.2" cy="1.2" r="0.39" fill="#c8cadc" fill-opacity="0.76"/><circle cx="26.4" cy="3.4" r="0.51" fill="#dad9e2" fill-opacity="0.70"/><circle cx="16.0" cy="3.2" r="0.54" fill="#dad9e2" fill-opacity="0.80"/><circle cx="8.1" cy="20.2" r="0.32" fill="#b8a4a4" fill-opacity="1.00"/><circle cx="26.7" cy="13.2" r="0.57" fill="#c8cadc" fill-opacity="0.77"/><circle cx="13.3" cy="11.6" r="0.64" fill="#b8a4a4" fill-opacity="0.67"/><circle cx="23.7" cy="29.3" r="0.51" fill="#aab0d4" fill-opacity="0.66"/><circle cx="17.2" cy="4.0" r="0.42" fill="#dad9e2" fill-opacity="0.70"/><circle cx="5.4" cy="4.7" r="0.44" fill="#949ac6" fill-opacity="0.99"/><circle cx="13.6" cy="5.8" r="0.45" fill="#c8cadc" fill-opacity="0.74"/><circle cx="18.3" cy="1.0" r="0.44" fill="#dad9e2" fill-opacity="0.77"/><circle cx="27.0" cy="0.7" r="0.62" fill="#aab0d4" fill-opacity="0.83"/><circle cx="19.9" cy="7.7" r="0.55" fill="#949ac6" fill-opacity="0.81"/><circle cx="17.9" cy="28.1" r="0.39" fill="#b8a4a4" fill-opacity="0.66"/><circle cx="8.4" cy="29.0" r="0.43" fill="#dad9e2" fill-opacity="0.80"/><circle cx="26.0" cy="23.2" r="0.53" fill="#aab0d4" fill-opacity="0.65"/><circle cx="17.3" cy="19.4" r="0.46" fill="#aab0d4" fill-opacity="0.78"/><circle cx="27.3" cy="22.1" r="0.56" fill="#b8a4a4" fill-opacity="0.74"/><circle cx="4.3" cy="20.6" r="0.53" fill="#aab0d4" fill-opacity="0.78"/><circle cx="20.5" cy="22.4" r="0.36" fill="#949ac6" fill-opacity="0.96"/><circle cx="16.5" cy="12.6" r="0.53" fill="#949ac6" fill-opacity="0.87"/><circle cx="19.4" cy="12.4" r="0.31" fill="#aab0d4" fill-opacity="0.64"/><circle cx="0.3" cy="25.9" r="0.41" fill="#949ac6" fill-opacity="0.89"/><circle cx="29.3" cy="25.9" r="0.41" fill="#949ac6" fill-opacity="0.89"/><circle cx="5.2" cy="25.8" r="0.41" fill="#dad9e2" fill-opacity="0.81"/><circle cx="13.9" cy="19.2" r="0.38" fill="#dad9e2" fill-opacity="0.84"/><circle cx="10.0" cy="9.4" r="0.35" fill="#dad9e2" fill-opacity="0.60"/><circle cx="11.8" cy="20.2" r="0.51" fill="#dad9e2" fill-opacity="0.95"/><circle cx="18.5" cy="17.8" r="0.38" fill="#b8a4a4" fill-opacity="0.73"/><circle cx="9.7" cy="24.2" r="0.44" fill="#b8a4a4" fill-opacity="0.89"/><circle cx="13.5" cy="8.7" r="0.48" fill="#b8a4a4" fill-opacity="0.75"/><circle cx="10.5" cy="11.5" r="0.58" fill="#c8cadc" fill-opacity="0.82"/><circle cx="18.8" cy="19.4" r="0.37" fill="#aab0d4" fill-opacity="0.70"/><circle cx="25.0" cy="18.2" r="0.48" fill="#c8cadc" fill-opacity="0.60"/><circle cx="22.2" cy="22.9" r="0.53" fill="#c8cadc" fill-opacity="0.89"/><circle cx="17.6" cy="5.6" r="0.47" fill="#dad9e2" fill-opacity="0.92"/><circle cx="3.9" cy="6.5" r="0.55" fill="#dad9e2" fill-opacity="0.85"/><circle cx="13.2" cy="19.8" r="0.56" fill="#949ac6" fill-opacity="0.76"/><circle cx="24.3" cy="0.3" r="0.61" fill="#949ac6" fill-opacity="0.61"/><circle cx="24.3" cy="31.3" r="0.61" fill="#949ac6" fill-opacity="0.61"/><circle cx="10.6" cy="11.8" r="0.33" fill="#aab0d4" fill-opacity="0.67"/><circle cx="23.3" cy="27.2" r="0.46" fill="#dad9e2" fill-opacity="0.71"/><circle cx="25.2" cy="16.7" r="0.62" fill="#b8a4a4" fill-opacity="0.88"/><circle cx="8.5" cy="28.4" r="0.49" fill="#b8a4a4" fill-opacity="0.68"/><circle cx="12.1" cy="3.9" r="0.51" fill="#aab0d4" fill-opacity="0.97"/><circle cx="24.9" cy="21.6" r="0.46" fill="#dad9e2" fill-opacity="0.66"/><circle cx="6.6" cy="19.2" r="0.52" fill="#dad9e2" fill-opacity="0.94"/><circle cx="4.5" cy="28.6" r="0.31" fill="#dad9e2" fill-opacity="0.71"/><circle cx="10.8" cy="2.2" r="0.58" fill="#b8a4a4" fill-opacity="0.65"/><circle cx="3.8" cy="13.1" r="0.56" fill="#949ac6" fill-opacity="0.82"/><circle cx="0.6" cy="0.5" r="0.52" fill="#dad9e2" fill-opacity="0.94"/><circle cx="21.8" cy="4.2" r="0.56" fill="#aab0d4" fill-opacity="0.87"/><circle cx="13.9" cy="9.1" r="0.32" fill="#c8cadc" fill-opacity="0.98"/><circle cx="3.3" cy="25.4" r="0.61" fill="#949ac6" fill-opacity="0.96"/><circle cx="20.7" cy="29.4" r="0.57" fill="#b8a4a4" fill-opacity="0.65"/><circle cx="28.8" cy="7.1" r="0.55" fill="#c8cadc" fill-opacity="0.92"/><circle cx="-0.2" cy="7.1" r="0.55" fill="#c8cadc" fill-opacity="0.92"/><circle cx="28.7" cy="27.1" r="0.53" fill="#c8cadc" fill-opacity="0.76"/><circle cx="-0.3" cy="27.1" r="0.53" fill="#c8cadc" fill-opacity="0.76"/><circle cx="19.0" cy="25.8" r="0.42" fill="#aab0d4" fill-opacity="0.86"/><circle cx="10.0" cy="5.7" r="0.63" fill="#dad9e2" fill-opacity="0.65"/><circle cx="27.6" cy="4.5" r="0.57" fill="#c8cadc" fill-opacity="0.85"/><circle cx="17.8" cy="21.7" r="0.34" fill="#b8a4a4" fill-opacity="0.93"/><circle cx="20.9" cy="5.5" r="0.53" fill="#b8a4a4" fill-opacity="0.87"/></pattern><pattern id="pR1" patternUnits="userSpaceOnUse" width="23" height="19"><circle cx="5.5" cy="10.3" r="0.62" fill="#a8683c" fill-opacity="0.66"/><circle cx="13.4" cy="11.5" r="0.86" fill="#c48a58" fill-opacity="0.57"/><circle cx="5.4" cy="18.9" r="0.66" fill="#a8683c" fill-opacity="0.66"/><circle cx="5.4" cy="-0.1" r="0.66" fill="#a8683c" fill-opacity="0.66"/><circle cx="14.7" cy="2.9" r="0.74" fill="#a8683c" fill-opacity="0.63"/><circle cx="0.3" cy="14.8" r="0.52" fill="#a8683c" fill-opacity="0.47"/><circle cx="23.3" cy="14.8" r="0.52" fill="#a8683c" fill-opacity="0.47"/><circle cx="17.9" cy="15.6" r="0.57" fill="#a8683c" fill-opacity="0.77"/><circle cx="20.2" cy="13.6" r="0.86" fill="#c48a58" fill-opacity="0.78"/><circle cx="13.3" cy="18.3" r="0.51" fill="#c48a58" fill-opacity="0.49"/><circle cx="3.1" cy="4.1" r="0.88" fill="#c48a58" fill-opacity="0.80"/><circle cx="19.7" cy="8.0" r="0.83" fill="#a8683c" fill-opacity="0.61"/><circle cx="13.5" cy="11.1" r="0.86" fill="#a8683c" fill-opacity="0.86"/><circle cx="0.7" cy="5.3" r="0.72" fill="#a8683c" fill-opacity="0.52"/><circle cx="23.7" cy="5.3" r="0.72" fill="#a8683c" fill-opacity="0.52"/><circle cx="19.8" cy="18.3" r="0.86" fill="#a8683c" fill-opacity="0.50"/><circle cx="19.8" cy="-0.7" r="0.86" fill="#a8683c" fill-opacity="0.50"/><circle cx="15.1" cy="12.0" r="0.89" fill="#c48a58" fill-opacity="0.58"/><circle cx="1.5" cy="16.2" r="0.90" fill="#b8743e" fill-opacity="0.60"/><circle cx="1.5" cy="17.0" r="0.46" fill="#c48a58" fill-opacity="0.80"/><circle cx="20.1" cy="0.8" r="0.73" fill="#b8743e" fill-opacity="0.62"/><circle cx="13.5" cy="10.5" r="0.86" fill="#c48a58" fill-opacity="0.68"/><circle cx="23.0" cy="5.9" r="0.48" fill="#a8683c" fill-opacity="0.69"/><circle cx="-0.0" cy="5.9" r="0.48" fill="#a8683c" fill-opacity="0.69"/><circle cx="21.8" cy="18.5" r="0.58" fill="#c48a58" fill-opacity="0.52"/><circle cx="21.8" cy="-0.5" r="0.58" fill="#c48a58" fill-opacity="0.52"/><circle cx="1.0" cy="16.5" r="0.59" fill="#b8743e" fill-opacity="0.85"/><circle cx="8.7" cy="8.7" r="0.68" fill="#a8683c" fill-opacity="0.84"/><circle cx="15.7" cy="1.9" r="0.89" fill="#a8683c" fill-opacity="0.57"/><circle cx="14.6" cy="13.6" r="0.87" fill="#c48a58" fill-opacity="0.89"/><circle cx="12.0" cy="10.4" r="0.46" fill="#c48a58" fill-opacity="0.89"/><circle cx="7.2" cy="7.2" r="0.72" fill="#b8743e" fill-opacity="0.48"/><circle cx="14.4" cy="8.9" r="0.76" fill="#c48a58" fill-opacity="0.72"/><circle cx="6.4" cy="9.3" r="0.72" fill="#a8683c" fill-opacity="0.46"/><circle cx="8.5" cy="11.9" r="0.58" fill="#a8683c" fill-opacity="0.59"/><circle cx="8.4" cy="5.9" r="0.62" fill="#a8683c" fill-opacity="0.57"/><circle cx="18.1" cy="2.0" r="0.82" fill="#a8683c" fill-opacity="0.76"/><circle cx="3.0" cy="9.5" r="0.74" fill="#c48a58" fill-opacity="0.56"/><circle cx="4.3" cy="8.3" r="0.76" fill="#b8743e" fill-opacity="0.72"/><circle cx="21.8" cy="12.8" r="0.55" fill="#b8743e" fill-opacity="0.49"/><circle cx="17.1" cy="4.1" r="0.71" fill="#c48a58" fill-opacity="0.55"/><circle cx="2.8" cy="10.1" r="0.54" fill="#a8683c" fill-opacity="0.53"/><circle cx="6.4" cy="15.3" r="0.74" fill="#a8683c" fill-opacity="0.61"/><circle cx="3.0" cy="5.5" r="0.81" fill="#c48a58" fill-opacity="0.66"/><circle cx="14.6" cy="5.5" r="0.71" fill="#b8743e" fill-opacity="0.86"/><circle cx="3.6" cy="0.1" r="0.87" fill="#a8683c" fill-opacity="0.89"/><circle cx="3.6" cy="19.1" r="0.87" fill="#a8683c" fill-opacity="0.89"/><circle cx="10.0" cy="18.1" r="0.87" fill="#b8743e" fill-opacity="0.46"/><circle cx="10.5" cy="14.3" r="0.79" fill="#c48a58" fill-opacity="0.69"/><circle cx="20.5" cy="16.4" r="0.84" fill="#c48a58" fill-opacity="0.50"/><circle cx="5.6" cy="0.7" r="0.81" fill="#a8683c" fill-opacity="0.87"/><circle cx="5.6" cy="19.7" r="0.81" fill="#a8683c" fill-opacity="0.87"/><circle cx="20.6" cy="17.1" r="0.71" fill="#b8743e" fill-opacity="0.67"/><circle cx="2.8" cy="9.6" r="0.56" fill="#b8743e" fill-opacity="0.69"/><circle cx="9.5" cy="17.8" r="0.73" fill="#c48a58" fill-opacity="0.51"/><circle cx="22.4" cy="10.3" r="0.82" fill="#b8743e" fill-opacity="0.61"/><circle cx="-0.6" cy="10.3" r="0.82" fill="#b8743e" fill-opacity="0.61"/><circle cx="4.5" cy="10.2" r="0.82" fill="#b8743e" fill-opacity="0.56"/><circle cx="6.3" cy="16.9" r="0.51" fill="#b8743e" fill-opacity="0.67"/><circle cx="13.1" cy="7.6" r="0.79" fill="#b8743e" fill-opacity="0.57"/><circle cx="12.1" cy="8.0" r="0.66" fill="#b8743e" fill-opacity="0.84"/><circle cx="17.8" cy="0.9" r="0.47" fill="#c48a58" fill-opacity="0.89"/><circle cx="19.7" cy="1.6" r="0.68" fill="#c48a58" fill-opacity="0.52"/><circle cx="1.7" cy="7.3" r="0.63" fill="#c48a58" fill-opacity="0.61"/><circle cx="4.4" cy="6.2" r="0.51" fill="#a8683c" fill-opacity="0.45"/><circle cx="16.6" cy="15.1" r="0.71" fill="#b8743e" fill-opacity="0.62"/><circle cx="13.9" cy="14.9" r="0.62" fill="#b8743e" fill-opacity="0.73"/><circle cx="9.9" cy="7.1" r="0.67" fill="#a8683c" fill-opacity="0.59"/><circle cx="21.9" cy="7.9" r="0.46" fill="#b8743e" fill-opacity="0.69"/><circle cx="16.0" cy="1.4" r="0.64" fill="#c48a58" fill-opacity="0.51"/><circle cx="0.6" cy="6.2" r="0.89" fill="#a8683c" fill-opacity="0.81"/><circle cx="23.6" cy="6.2" r="0.89" fill="#a8683c" fill-opacity="0.81"/><circle cx="6.0" cy="8.8" r="0.51" fill="#a8683c" fill-opacity="0.75"/><circle cx="20.4" cy="15.1" r="0.75" fill="#a8683c" fill-opacity="0.59"/><circle cx="12.2" cy="15.4" r="0.77" fill="#c48a58" fill-opacity="0.51"/><circle cx="17.8" cy="0.8" r="0.49" fill="#b8743e" fill-opacity="0.75"/><circle cx="8.6" cy="15.6" r="0.60" fill="#b8743e" fill-opacity="0.46"/><circle cx="2.6" cy="9.2" r="0.76" fill="#c48a58" fill-opacity="0.71"/><circle cx="18.4" cy="0.7" r="0.80" fill="#a8683c" fill-opacity="0.69"/><circle cx="18.4" cy="19.7" r="0.80" fill="#a8683c" fill-opacity="0.69"/><circle cx="5.5" cy="10.5" r="0.49" fill="#a8683c" fill-opacity="0.48"/><circle cx="7.5" cy="10.7" r="0.82" fill="#b8743e" fill-opacity="0.90"/><circle cx="14.9" cy="8.6" r="0.77" fill="#c48a58" fill-opacity="0.56"/><circle cx="13.8" cy="17.8" r="0.70" fill="#b8743e" fill-opacity="0.62"/><circle cx="5.4" cy="17.7" r="0.83" fill="#b8743e" fill-opacity="0.64"/><circle cx="13.1" cy="11.0" r="0.87" fill="#a8683c" fill-opacity="0.67"/><circle cx="14.8" cy="17.1" r="0.52" fill="#b8743e" fill-opacity="0.67"/><circle cx="11.1" cy="13.3" r="0.88" fill="#a8683c" fill-opacity="0.77"/><circle cx="4.3" cy="5.1" r="0.54" fill="#a8683c" fill-opacity="0.68"/><circle cx="21.5" cy="16.2" r="0.69" fill="#c48a58" fill-opacity="0.75"/><circle cx="19.7" cy="11.3" r="0.71" fill="#c48a58" fill-opacity="0.85"/><circle cx="7.1" cy="5.1" r="0.81" fill="#b8743e" fill-opacity="0.53"/><circle cx="8.3" cy="6.1" r="0.80" fill="#b8743e" fill-opacity="0.64"/><circle cx="16.0" cy="13.3" r="0.54" fill="#a8683c" fill-opacity="0.83"/><circle cx="18.9" cy="10.6" r="0.67" fill="#a8683c" fill-opacity="0.48"/><circle cx="21.8" cy="14.9" r="0.85" fill="#b8743e" fill-opacity="0.66"/><circle cx="5.3" cy="4.5" r="0.77" fill="#a8683c" fill-opacity="0.48"/><circle cx="5.0" cy="4.8" r="0.85" fill="#c48a58" fill-opacity="0.51"/><circle cx="14.3" cy="12.8" r="0.47" fill="#c48a58" fill-opacity="0.53"/><circle cx="1.0" cy="3.5" r="0.49" fill="#b8743e" fill-opacity="0.50"/><circle cx="6.1" cy="17.4" r="0.47" fill="#c48a58" fill-opacity="0.71"/></pattern><pattern id="pR2" patternUnits="userSpaceOnUse" width="29" height="31"><circle cx="6.8" cy="3.2" r="0.68" fill="#ddd4cc" fill-opacity="0.64"/><circle cx="0.6" cy="17.0" r="0.63" fill="#9c9cbc" fill-opacity="0.69"/><circle cx="29.6" cy="17.0" r="0.63" fill="#9c9cbc" fill-opacity="0.69"/><circle cx="15.6" cy="8.6" r="0.58" fill="#9c9cbc" fill-opacity="0.70"/><circle cx="27.3" cy="0.8" r="0.79" fill="#a8a0b8" fill-opacity="0.92"/><circle cx="5.6" cy="9.6" r="0.78" fill="#a4a2c0" fill-opacity="0.98"/><circle cx="24.6" cy="11.5" r="0.88" fill="#a8a0b8" fill-opacity="0.87"/><circle cx="14.7" cy="5.5" r="0.71" fill="#9c9cbc" fill-opacity="0.98"/><circle cx="23.7" cy="29.2" r="0.88" fill="#9c9cbc" fill-opacity="0.96"/><circle cx="16.6" cy="27.4" r="0.88" fill="#d6cac0" fill-opacity="0.68"/><circle cx="12.3" cy="8.9" r="0.70" fill="#ddd4cc" fill-opacity="0.72"/><circle cx="23.6" cy="1.3" r="0.52" fill="#a4a2c0" fill-opacity="1.00"/><circle cx="15.0" cy="20.1" r="0.82" fill="#ddd4cc" fill-opacity="1.00"/><circle cx="5.7" cy="12.8" r="0.59" fill="#a4a2c0" fill-opacity="0.78"/><circle cx="5.3" cy="13.5" r="0.76" fill="#a4a2c0" fill-opacity="0.82"/><circle cx="26.2" cy="3.1" r="0.53" fill="#ddd4cc" fill-opacity="0.71"/><circle cx="16.9" cy="26.7" r="0.55" fill="#ddd4cc" fill-opacity="0.72"/><circle cx="0.7" cy="11.1" r="0.54" fill="#a8a0b8" fill-opacity="0.89"/><circle cx="27.8" cy="0.6" r="0.63" fill="#ddd4cc" fill-opacity="0.91"/><circle cx="27.8" cy="31.6" r="0.63" fill="#ddd4cc" fill-opacity="0.91"/><circle cx="11.9" cy="29.2" r="0.78" fill="#9c9cbc" fill-opacity="0.72"/><circle cx="5.6" cy="13.8" r="0.56" fill="#c99a70" fill-opacity="0.84"/><circle cx="4.6" cy="17.8" r="0.66" fill="#c99a70" fill-opacity="0.67"/><circle cx="22.7" cy="11.2" r="0.63" fill="#9c9cbc" fill-opacity="0.78"/><circle cx="6.0" cy="28.4" r="0.55" fill="#9c9cbc" fill-opacity="0.62"/><circle cx="4.9" cy="21.0" r="0.57" fill="#9c9cbc" fill-opacity="0.82"/><circle cx="16.9" cy="10.0" r="0.52" fill="#d6cac0" fill-opacity="0.72"/><circle cx="28.9" cy="20.2" r="0.59" fill="#ddd4cc" fill-opacity="0.70"/><circle cx="-0.1" cy="20.2" r="0.59" fill="#ddd4cc" fill-opacity="0.70"/><circle cx="11.9" cy="1.1" r="0.69" fill="#ddd4cc" fill-opacity="0.86"/><circle cx="12.4" cy="6.7" r="0.58" fill="#9c9cbc" fill-opacity="0.70"/><circle cx="7.0" cy="6.5" r="0.60" fill="#a8a0b8" fill-opacity="0.66"/><circle cx="1.5" cy="28.8" r="0.75" fill="#d6cac0" fill-opacity="0.76"/><circle cx="26.1" cy="20.3" r="0.86" fill="#a4a2c0" fill-opacity="0.62"/><circle cx="11.2" cy="13.3" r="0.92" fill="#d6cac0" fill-opacity="0.96"/><circle cx="26.8" cy="10.4" r="0.80" fill="#a4a2c0" fill-opacity="0.73"/><circle cx="12.2" cy="6.7" r="0.86" fill="#a8a0b8" fill-opacity="0.74"/><circle cx="11.4" cy="15.4" r="0.89" fill="#a8a0b8" fill-opacity="0.98"/><circle cx="19.4" cy="1.4" r="0.90" fill="#ddd4cc" fill-opacity="0.91"/><circle cx="7.8" cy="26.5" r="0.89" fill="#a4a2c0" fill-opacity="0.85"/><circle cx="16.5" cy="23.1" r="0.92" fill="#ddd4cc" fill-opacity="0.92"/><circle cx="6.1" cy="4.9" r="0.77" fill="#a8a0b8" fill-opacity="0.65"/><circle cx="23.5" cy="24.3" r="0.90" fill="#d6cac0" fill-opacity="0.62"/><circle cx="27.6" cy="5.0" r="0.77" fill="#d6cac0" fill-opacity="0.91"/><circle cx="13.7" cy="16.3" r="0.51" fill="#9c9cbc" fill-opacity="0.88"/><circle cx="3.3" cy="17.4" r="0.62" fill="#ddd4cc" fill-opacity="0.62"/><circle cx="2.3" cy="27.3" r="0.91" fill="#a8a0b8" fill-opacity="0.94"/><circle cx="24.0" cy="2.6" r="0.74" fill="#c99a70" fill-opacity="0.68"/><circle cx="28.3" cy="12.0" r="0.84" fill="#c99a70" fill-opacity="0.64"/><circle cx="-0.7" cy="12.0" r="0.84" fill="#c99a70" fill-opacity="0.64"/><circle cx="3.3" cy="19.2" r="0.90" fill="#d6cac0" fill-opacity="1.00"/><circle cx="12.1" cy="22.0" r="0.70" fill="#a4a2c0" fill-opacity="0.95"/><circle cx="5.7" cy="9.4" r="0.88" fill="#c99a70" fill-opacity="0.65"/><circle cx="16.2" cy="11.5" r="0.57" fill="#a4a2c0" fill-opacity="0.66"/><circle cx="14.3" cy="10.5" r="0.74" fill="#9c9cbc" fill-opacity="0.88"/><circle cx="0.2" cy="9.7" r="0.75" fill="#c99a70" fill-opacity="0.91"/><circle cx="29.2" cy="9.7" r="0.75" fill="#c99a70" fill-opacity="0.91"/><circle cx="17.4" cy="16.3" r="0.73" fill="#c99a70" fill-opacity="0.94"/><circle cx="10.3" cy="23.8" r="0.94" fill="#a4a2c0" fill-opacity="0.60"/><circle cx="1.5" cy="28.1" r="0.74" fill="#c99a70" fill-opacity="0.91"/><circle cx="16.5" cy="29.0" r="0.73" fill="#c99a70" fill-opacity="0.85"/><circle cx="12.8" cy="4.4" r="0.85" fill="#a8a0b8" fill-opacity="0.99"/><circle cx="9.9" cy="13.4" r="0.77" fill="#a4a2c0" fill-opacity="0.92"/><circle cx="5.2" cy="28.0" r="0.67" fill="#d6cac0" fill-opacity="0.92"/><circle cx="19.6" cy="27.4" r="0.53" fill="#a4a2c0" fill-opacity="0.97"/><circle cx="5.2" cy="20.3" r="0.65" fill="#a8a0b8" fill-opacity="0.95"/><circle cx="17.5" cy="16.2" r="0.84" fill="#9c9cbc" fill-opacity="0.92"/><circle cx="23.4" cy="29.6" r="0.57" fill="#d6cac0" fill-opacity="0.99"/><circle cx="19.2" cy="30.8" r="0.53" fill="#9c9cbc" fill-opacity="0.67"/><circle cx="19.2" cy="-0.2" r="0.53" fill="#9c9cbc" fill-opacity="0.67"/><circle cx="13.9" cy="27.5" r="0.60" fill="#a4a2c0" fill-opacity="0.72"/><circle cx="26.9" cy="12.6" r="0.77" fill="#c99a70" fill-opacity="0.88"/><circle cx="9.0" cy="7.1" r="0.65" fill="#a4a2c0" fill-opacity="0.81"/><circle cx="13.1" cy="24.9" r="0.73" fill="#a8a0b8" fill-opacity="0.71"/><circle cx="11.9" cy="0.4" r="0.58" fill="#d6cac0" fill-opacity="0.78"/><circle cx="11.9" cy="31.4" r="0.58" fill="#d6cac0" fill-opacity="0.78"/><circle cx="16.3" cy="25.6" r="0.68" fill="#c99a70" fill-opacity="0.85"/><circle cx="4.5" cy="2.1" r="0.94" fill="#a4a2c0" fill-opacity="0.97"/><circle cx="17.5" cy="9.7" r="0.54" fill="#a8a0b8" fill-opacity="0.79"/><circle cx="18.6" cy="14.8" r="0.77" fill="#9c9cbc" fill-opacity="0.66"/><circle cx="6.9" cy="9.3" r="0.93" fill="#ddd4cc" fill-opacity="0.76"/><circle cx="16.9" cy="19.2" r="0.82" fill="#d6cac0" fill-opacity="0.70"/><circle cx="15.2" cy="4.9" r="0.54" fill="#9c9cbc" fill-opacity="0.98"/><circle cx="2.4" cy="8.4" r="0.90" fill="#a4a2c0" fill-opacity="0.72"/><circle cx="25.8" cy="21.8" r="0.83" fill="#a4a2c0" fill-opacity="0.77"/><circle cx="3.8" cy="22.0" r="0.54" fill="#a8a0b8" fill-opacity="0.88"/><circle cx="21.0" cy="17.1" r="0.73" fill="#ddd4cc" fill-opacity="0.69"/><circle cx="8.6" cy="15.7" r="0.67" fill="#ddd4cc" fill-opacity="0.95"/><circle cx="7.4" cy="12.1" r="0.81" fill="#c99a70" fill-opacity="0.73"/><circle cx="11.2" cy="13.1" r="0.51" fill="#a4a2c0" fill-opacity="0.61"/><circle cx="27.8" cy="4.7" r="0.57" fill="#d6cac0" fill-opacity="0.93"/><circle cx="6.7" cy="17.2" r="0.71" fill="#a4a2c0" fill-opacity="0.81"/><circle cx="25.7" cy="14.0" r="0.83" fill="#a4a2c0" fill-opacity="0.97"/><circle cx="11.0" cy="26.3" r="0.88" fill="#d6cac0" fill-opacity="0.68"/><circle cx="13.8" cy="28.0" r="0.66" fill="#a4a2c0" fill-opacity="0.93"/><circle cx="12.0" cy="22.9" r="0.87" fill="#ddd4cc" fill-opacity="0.70"/><circle cx="24.9" cy="20.5" r="0.64" fill="#c99a70" fill-opacity="0.85"/><circle cx="9.8" cy="25.9" r="0.90" fill="#a8a0b8" fill-opacity="0.95"/><circle cx="19.1" cy="21.7" r="0.77" fill="#d6cac0" fill-opacity="0.79"/><circle cx="27.7" cy="28.8" r="0.58" fill="#9c9cbc" fill-opacity="0.80"/><circle cx="15.8" cy="18.5" r="0.61" fill="#ddd4cc" fill-opacity="0.87"/><circle cx="9.8" cy="18.7" r="0.56" fill="#a8a0b8" fill-opacity="0.65"/><circle cx="28.4" cy="25.6" r="0.73" fill="#9c9cbc" fill-opacity="0.63"/><circle cx="-0.6" cy="25.6" r="0.73" fill="#9c9cbc" fill-opacity="0.63"/><circle cx="6.6" cy="8.5" r="0.93" fill="#a4a2c0" fill-opacity="0.99"/><circle cx="0.3" cy="21.6" r="0.60" fill="#ddd4cc" fill-opacity="0.96"/><circle cx="29.3" cy="21.6" r="0.60" fill="#ddd4cc" fill-opacity="0.96"/><circle cx="21.7" cy="25.3" r="0.63" fill="#c99a70" fill-opacity="0.85"/><circle cx="11.7" cy="5.4" r="0.72" fill="#9c9cbc" fill-opacity="0.90"/><circle cx="25.0" cy="9.3" r="0.81" fill="#ddd4cc" fill-opacity="0.88"/><circle cx="12.7" cy="5.4" r="0.51" fill="#c99a70" fill-opacity="0.97"/><circle cx="8.0" cy="23.4" r="0.68" fill="#a4a2c0" fill-opacity="0.97"/><circle cx="11.9" cy="23.3" r="0.59" fill="#a8a0b8" fill-opacity="0.80"/><circle cx="0.9" cy="8.2" r="0.63" fill="#a4a2c0" fill-opacity="0.65"/><circle cx="22.0" cy="2.7" r="0.94" fill="#ddd4cc" fill-opacity="0.85"/><circle cx="20.3" cy="29.0" r="0.61" fill="#ddd4cc" fill-opacity="0.96"/><circle cx="14.5" cy="3.5" r="0.65" fill="#c99a70" fill-opacity="0.83"/><circle cx="5.9" cy="2.9" r="0.73" fill="#9c9cbc" fill-opacity="0.65"/><circle cx="28.2" cy="9.2" r="0.76" fill="#a4a2c0" fill-opacity="0.66"/><circle cx="21.6" cy="20.5" r="0.95" fill="#a4a2c0" fill-opacity="0.90"/><circle cx="21.9" cy="24.8" r="0.80" fill="#a8a0b8" fill-opacity="0.61"/><circle cx="9.4" cy="10.2" r="0.94" fill="#d6cac0" fill-opacity="0.94"/><circle cx="28.6" cy="5.0" r="0.84" fill="#9c9cbc" fill-opacity="0.98"/><circle cx="-0.4" cy="5.0" r="0.84" fill="#9c9cbc" fill-opacity="0.98"/><circle cx="27.6" cy="21.2" r="0.94" fill="#9c9cbc" fill-opacity="0.87"/><circle cx="7.6" cy="28.6" r="0.80" fill="#c99a70" fill-opacity="0.64"/><circle cx="5.8" cy="4.3" r="0.72" fill="#d6cac0" fill-opacity="0.80"/><circle cx="9.4" cy="13.3" r="0.68" fill="#9c9cbc" fill-opacity="0.90"/><circle cx="1.1" cy="4.7" r="0.60" fill="#ddd4cc" fill-opacity="0.75"/><circle cx="25.1" cy="29.1" r="0.80" fill="#c99a70" fill-opacity="0.75"/><circle cx="20.5" cy="29.3" r="0.59" fill="#a8a0b8" fill-opacity="0.67"/><circle cx="15.5" cy="0.7" r="0.55" fill="#a8a0b8" fill-opacity="0.93"/><circle cx="21.2" cy="29.1" r="0.72" fill="#9c9cbc" fill-opacity="0.98"/><circle cx="23.2" cy="24.9" r="0.57" fill="#c99a70" fill-opacity="0.85"/><circle cx="10.2" cy="0.2" r="0.81" fill="#c99a70" fill-opacity="0.61"/><circle cx="10.2" cy="31.2" r="0.81" fill="#c99a70" fill-opacity="0.61"/><circle cx="22.7" cy="22.7" r="0.69" fill="#9c9cbc" fill-opacity="0.73"/><circle cx="17.3" cy="1.7" r="0.54" fill="#ddd4cc" fill-opacity="0.99"/><circle cx="15.3" cy="5.6" r="0.78" fill="#d6cac0" fill-opacity="0.73"/><circle cx="0.6" cy="20.5" r="0.67" fill="#ddd4cc" fill-opacity="0.92"/><circle cx="29.6" cy="20.5" r="0.67" fill="#ddd4cc" fill-opacity="0.92"/><circle cx="4.0" cy="1.3" r="0.58" fill="#a8a0b8" fill-opacity="0.69"/><circle cx="21.5" cy="16.8" r="0.67" fill="#a4a2c0" fill-opacity="0.74"/><circle cx="19.6" cy="16.9" r="0.93" fill="#a8a0b8" fill-opacity="0.70"/><circle cx="9.7" cy="16.7" r="0.74" fill="#a8a0b8" fill-opacity="0.83"/><circle cx="24.7" cy="15.3" r="0.87" fill="#9c9cbc" fill-opacity="0.95"/><circle cx="17.3" cy="30.6" r="0.56" fill="#a4a2c0" fill-opacity="0.66"/><circle cx="17.3" cy="-0.4" r="0.56" fill="#a4a2c0" fill-opacity="0.66"/><circle cx="24.3" cy="16.7" r="0.66" fill="#9c9cbc" fill-opacity="0.88"/><circle cx="1.4" cy="25.9" r="0.57" fill="#ddd4cc" fill-opacity="0.71"/><circle cx="1.7" cy="14.7" r="0.89" fill="#ddd4cc" fill-opacity="0.86"/><circle cx="22.0" cy="16.4" r="0.84" fill="#9c9cbc" fill-opacity="0.96"/><circle cx="8.3" cy="12.9" r="0.50" fill="#d6cac0" fill-opacity="0.84"/><circle cx="26.6" cy="11.2" r="0.59" fill="#a4a2c0" fill-opacity="0.63"/><circle cx="12.3" cy="28.3" r="0.63" fill="#a4a2c0" fill-opacity="0.98"/><circle cx="23.7" cy="6.3" r="0.91" fill="#9c9cbc" fill-opacity="1.00"/><circle cx="0.3" cy="0.1" r="0.63" fill="#d6cac0" fill-opacity="0.81"/><circle cx="0.3" cy="31.1" r="0.63" fill="#d6cac0" fill-opacity="0.81"/><circle cx="29.3" cy="0.1" r="0.63" fill="#d6cac0" fill-opacity="0.81"/><circle cx="29.3" cy="31.1" r="0.63" fill="#d6cac0" fill-opacity="0.81"/><circle cx="1.9" cy="16.2" r="0.65" fill="#ddd4cc" fill-opacity="0.85"/><circle cx="14.8" cy="17.0" r="0.81" fill="#9c9cbc" fill-opacity="0.66"/><circle cx="28.0" cy="27.6" r="0.93" fill="#d6cac0" fill-opacity="0.73"/><circle cx="9.8" cy="8.6" r="0.76" fill="#9c9cbc" fill-opacity="0.83"/><circle cx="18.1" cy="18.7" r="0.50" fill="#9c9cbc" fill-opacity="0.91"/><circle cx="15.8" cy="13.2" r="0.64" fill="#a8a0b8" fill-opacity="0.99"/></pattern><filter color-interpolation-filters="sRGB" id="soft" x="-5%" y="-5%" width="110%" height="110%"><feTurbulence type="fractalNoise" baseFrequency="0.25" numOctaves="3" seed="8" result="dn"/><feDisplacementMap in="SourceGraphic" in2="dn" scale="4.5" xChannelSelector="R" yChannelSelector="G" result="dd"/><feGaussianBlur in="dd" stdDeviation="0.35"/></filter></defs>
<rect x="558.0" y="204.4" width="121.2" height="80.4" fill="#dbd8d2"/>
<g clip-path="url(#clip1)">
<path d="M558,266 C566,262 578,263 590,268 C600,272 606,278 612,285 L558,285 Z" fill="#c9ccd8" opacity="0.6" filter="url(#blur2)"/>
<g filter="url(#blur03)"><ellipse cx="566.9" cy="278.2" rx="1.23" ry="0.91" fill="#7b8cc8" fill-opacity="0.90"/><ellipse cx="583.6" cy="284.2" rx="0.78" ry="0.60" fill="#7b8cc8" fill-opacity="0.46"/><ellipse cx="565.8" cy="279.5" rx="1.52" ry="1.29" fill="#8d9bd0" fill-opacity="0.90"/><ellipse cx="597.9" cy="282.3" rx="1.22" ry="0.63" fill="#8d9bd0" fill-opacity="0.69"/><ellipse cx="595.5" cy="277.3" rx="1.54" ry="0.79" fill="#6c7fc2" fill-opacity="0.82"/><ellipse cx="564.7" cy="283.4" rx="1.05" ry="0.82" fill="#8d9bd0" fill-opacity="0.63"/><ellipse cx="566.2" cy="277.6" rx="1.07" ry="0.97" fill="#7b8cc8" fill-opacity="0.80"/><ellipse cx="569.3" cy="284.3" rx="1.49" ry="1.31" fill="#6c7fc2" fill-opacity="0.89"/><ellipse cx="561.8" cy="275.3" rx="1.16" ry="0.80" fill="#8d9bd0" fill-opacity="0.87"/><ellipse cx="577.7" cy="272.9" rx="0.99" ry="0.98" fill="#8d9bd0" fill-opacity="0.57"/><ellipse cx="596.7" cy="284.6" rx="0.60" ry="0.32" fill="#6c7fc2" fill-opacity="0.79"/><ellipse cx="570.0" cy="276.4" rx="1.16" ry="0.94" fill="#7b8cc8" fill-opacity="0.75"/><ellipse cx="591.8" cy="281.3" rx="0.93" ry="0.82" fill="#8d9bd0" fill-opacity="0.56"/><ellipse cx="567.1" cy="283.3" rx="0.77" ry="0.55" fill="#7b8cc8" fill-opacity="0.76"/><ellipse cx="594.5" cy="282.8" rx="1.56" ry="1.10" fill="#7b8cc8" fill-opacity="0.88"/><ellipse cx="589.9" cy="282.4" rx="1.09" ry="0.75" fill="#7b8cc8" fill-opacity="0.87"/><ellipse cx="571.3" cy="275.4" rx="1.04" ry="0.73" fill="#6c7fc2" fill-opacity="0.67"/><ellipse cx="571.9" cy="269.4" rx="1.02" ry="0.60" fill="#7b8cc8" fill-opacity="0.84"/><ellipse cx="566.2" cy="279.0" rx="0.65" ry="0.37" fill="#6c7fc2" fill-opacity="0.69"/><ellipse cx="569.5" cy="281.4" rx="1.40" ry="1.31" fill="#6c7fc2" fill-opacity="0.80"/><ellipse cx="584.2" cy="282.9" rx="1.08" ry="0.61" fill="#6c7fc2" fill-opacity="0.57"/><ellipse cx="595.0" cy="284.0" rx="0.62" ry="0.50" fill="#6c7fc2" fill-opacity="0.56"/><ellipse cx="594.9" cy="279.5" rx="1.41" ry="0.80" fill="#7b8cc8" fill-opacity="0.49"/><ellipse cx="582.1" cy="266.1" rx="1.47" ry="1.21" fill="#7b8cc8" fill-opacity="0.59"/><ellipse cx="567.8" cy="281.9" rx="0.80" ry="0.70" fill="#7b8cc8" fill-opacity="0.72"/><ellipse cx="585.3" cy="279.4" rx="0.66" ry="0.63" fill="#8d9bd0" fill-opacity="0.66"/><ellipse cx="561.4" cy="279.8" rx="0.78" ry="0.66" fill="#8d9bd0" fill-opacity="0.88"/><ellipse cx="590.7" cy="279.4" rx="0.84" ry="0.49" fill="#6c7fc2" fill-opacity="0.86"/><ellipse cx="573.9" cy="274.1" rx="1.15" ry="1.12" fill="#7b8cc8" fill-opacity="0.70"/><ellipse cx="561.2" cy="276.1" rx="0.92" ry="0.70" fill="#8d9bd0" fill-opacity="0.76"/><ellipse cx="586.4" cy="275.3" rx="0.66" ry="0.60" fill="#7b8cc8" fill-opacity="0.61"/><ellipse cx="575.2" cy="284.9" rx="0.71" ry="0.38" fill="#7b8cc8" fill-opacity="0.73"/><ellipse cx="601.6" cy="284.5" rx="1.11" ry="1.08" fill="#6c7fc2" fill-opacity="0.74"/><ellipse cx="581.9" cy="274.4" rx="0.99" ry="0.69" fill="#7b8cc8" fill-opacity="0.46"/><ellipse cx="572.9" cy="276.0" rx="1.00" ry="0.72" fill="#7b8cc8" fill-opacity="0.63"/><ellipse cx="575.7" cy="268.0" rx="1.51" ry="1.25" fill="#7b8cc8" fill-opacity="0.67"/><ellipse cx="584.6" cy="278.8" rx="1.49" ry="1.33" fill="#6c7fc2" fill-opacity="0.73"/><ellipse cx="591.5" cy="279.1" rx="1.21" ry="1.10" fill="#8d9bd0" fill-opacity="0.56"/><ellipse cx="591.2" cy="281.1" rx="1.56" ry="1.56" fill="#7b8cc8" fill-opacity="0.52"/><ellipse cx="568.9" cy="282.3" rx="1.32" ry="0.72" fill="#7b8cc8" fill-opacity="0.49"/><ellipse cx="574.3" cy="283.8" rx="1.34" ry="0.98" fill="#7b8cc8" fill-opacity="0.90"/><ellipse cx="567.0" cy="272.5" rx="1.28" ry="0.88" fill="#6c7fc2" fill-opacity="0.76"/><ellipse cx="572.1" cy="283.9" rx="0.92" ry="0.58" fill="#7b8cc8" fill-opacity="0.85"/><ellipse cx="585.4" cy="268.2" rx="1.29" ry="1.11" fill="#7b8cc8" fill-opacity="0.87"/><ellipse cx="583.2" cy="272.6" rx="1.22" ry="0.78" fill="#7b8cc8" fill-opacity="0.75"/><ellipse cx="576.9" cy="276.8" rx="1.47" ry="1.01" fill="#7b8cc8" fill-opacity="0.68"/><ellipse cx="560.1" cy="276.4" rx="1.30" ry="0.81" fill="#7b8cc8" fill-opacity="0.87"/><ellipse cx="566.0" cy="284.4" rx="0.79" ry="0.54" fill="#7b8cc8" fill-opacity="0.62"/><ellipse cx="565.3" cy="280.4" rx="1.42" ry="1.09" fill="#7b8cc8" fill-opacity="0.59"/><ellipse cx="580.5" cy="282.4" rx="0.84" ry="0.66" fill="#6c7fc2" fill-opacity="0.87"/><ellipse cx="606.6" cy="279.4" rx="1.36" ry="0.81" fill="#7b8cc8" fill-opacity="0.67"/><ellipse cx="586.4" cy="274.8" rx="1.09" ry="0.92" fill="#6c7fc2" fill-opacity="0.60"/><ellipse cx="572.6" cy="270.8" rx="0.90" ry="0.73" fill="#7b8cc8" fill-opacity="0.75"/><ellipse cx="568.1" cy="265.2" rx="1.43" ry="0.97" fill="#8d9bd0" fill-opacity="0.48"/><ellipse cx="560.0" cy="273.9" rx="1.28" ry="1.06" fill="#7b8cc8" fill-opacity="0.46"/><ellipse cx="570.6" cy="270.9" rx="0.85" ry="0.51" fill="#7b8cc8" fill-opacity="0.78"/><ellipse cx="560.2" cy="270.8" rx="1.13" ry="0.92" fill="#7b8cc8" fill-opacity="0.46"/><ellipse cx="577.9" cy="273.5" rx="1.46" ry="1.06" fill="#7b8cc8" fill-opacity="0.86"/><ellipse cx="600.0" cy="282.9" rx="1.13" ry="1.08" fill="#8d9bd0" fill-opacity="0.63"/><ellipse cx="608.9" cy="283.6" rx="1.39" ry="0.70" fill="#8d9bd0" fill-opacity="0.53"/></g>
<g filter="url(#blur03)"><ellipse cx="603.5" cy="247.7" rx="1.25" ry="0.84" fill="#7b8cc8" fill-opacity="0.55"/><ellipse cx="613.5" cy="246.7" rx="1.48" ry="1.18" fill="#8d9bd0" fill-opacity="0.64"/><ellipse cx="603.4" cy="247.6" rx="1.13" ry="0.98" fill="#6c7fc2" fill-opacity="0.48"/><ellipse cx="606.2" cy="250.7" rx="0.78" ry="0.55" fill="#6c7fc2" fill-opacity="0.68"/><ellipse cx="605.3" cy="249.8" rx="1.29" ry="0.92" fill="#8d9bd0" fill-opacity="0.69"/><ellipse cx="609.6" cy="253.2" rx="1.01" ry="0.84" fill="#7b8cc8" fill-opacity="0.59"/><ellipse cx="607.1" cy="254.2" rx="0.90" ry="0.72" fill="#6c7fc2" fill-opacity="0.69"/><ellipse cx="614.4" cy="258.6" rx="1.03" ry="0.56" fill="#8d9bd0" fill-opacity="0.61"/><ellipse cx="608.2" cy="251.6" rx="1.53" ry="1.49" fill="#6c7fc2" fill-opacity="0.56"/><ellipse cx="607.1" cy="248.5" rx="1.51" ry="1.23" fill="#8d9bd0" fill-opacity="0.47"/><ellipse cx="610.2" cy="257.1" rx="1.25" ry="0.75" fill="#6c7fc2" fill-opacity="0.50"/><ellipse cx="603.7" cy="247.7" rx="0.75" ry="0.59" fill="#7b8cc8" fill-opacity="0.83"/><ellipse cx="609.5" cy="253.3" rx="1.18" ry="1.18" fill="#6c7fc2" fill-opacity="0.84"/><ellipse cx="609.0" cy="246.9" rx="1.31" ry="1.28" fill="#7b8cc8" fill-opacity="0.82"/></g>
<g filter="url(#blur03)"><ellipse cx="646.3" cy="274.8" rx="1.13" ry="0.64" fill="#7b8cc8" fill-opacity="0.43"/><ellipse cx="612.8" cy="277.9" rx="1.50" ry="0.83" fill="#6c7fc2" fill-opacity="0.55"/><ellipse cx="613.1" cy="278.0" rx="1.03" ry="0.91" fill="#7b8cc8" fill-opacity="0.69"/><ellipse cx="646.2" cy="278.5" rx="1.22" ry="1.20" fill="#8d9bd0" fill-opacity="0.58"/><ellipse cx="628.3" cy="283.6" rx="1.17" ry="1.06" fill="#7b8cc8" fill-opacity="0.66"/><ellipse cx="646.3" cy="275.2" rx="1.24" ry="0.73" fill="#7b8cc8" fill-opacity="0.57"/><ellipse cx="651.1" cy="276.3" rx="1.18" ry="0.64" fill="#8d9bd0" fill-opacity="0.32"/><ellipse cx="628.0" cy="277.2" rx="1.42" ry="0.95" fill="#8d9bd0" fill-opacity="0.75"/><ellipse cx="643.4" cy="282.3" rx="1.05" ry="0.64" fill="#7b8cc8" fill-opacity="0.35"/><ellipse cx="657.5" cy="279.3" rx="1.43" ry="0.88" fill="#6c7fc2" fill-opacity="0.37"/><ellipse cx="655.2" cy="269.6" rx="0.98" ry="0.71" fill="#7b8cc8" fill-opacity="0.33"/><ellipse cx="659.0" cy="279.0" rx="1.57" ry="1.42" fill="#7b8cc8" fill-opacity="0.57"/><ellipse cx="632.1" cy="283.6" rx="0.98" ry="0.58" fill="#7b8cc8" fill-opacity="0.43"/><ellipse cx="643.8" cy="280.1" rx="1.06" ry="0.69" fill="#7b8cc8" fill-opacity="0.35"/><ellipse cx="642.7" cy="270.7" rx="1.14" ry="1.04" fill="#8d9bd0" fill-opacity="0.35"/><ellipse cx="656.2" cy="278.5" rx="1.01" ry="0.59" fill="#6c7fc2" fill-opacity="0.64"/><ellipse cx="635.9" cy="279.1" rx="1.43" ry="1.17" fill="#7b8cc8" fill-opacity="0.57"/><ellipse cx="636.7" cy="272.8" rx="1.46" ry="1.18" fill="#7b8cc8" fill-opacity="0.71"/><ellipse cx="618.3" cy="278.1" rx="0.93" ry="0.73" fill="#8d9bd0" fill-opacity="0.42"/><ellipse cx="644.6" cy="276.7" rx="0.84" ry="0.65" fill="#8d9bd0" fill-opacity="0.70"/><ellipse cx="635.3" cy="280.7" rx="0.63" ry="0.52" fill="#6c7fc2" fill-opacity="0.51"/><ellipse cx="616.7" cy="279.2" rx="1.08" ry="0.91" fill="#6c7fc2" fill-opacity="0.66"/><ellipse cx="622.3" cy="276.5" rx="0.87" ry="0.86" fill="#7b8cc8" fill-opacity="0.74"/><ellipse cx="662.1" cy="276.0" rx="1.38" ry="1.15" fill="#6c7fc2" fill-opacity="0.51"/><ellipse cx="651.5" cy="274.5" rx="1.40" ry="0.89" fill="#8d9bd0" fill-opacity="0.38"/></g>
<g filter="url(#blur03)"><ellipse cx="591.9" cy="254.6" rx="0.78" ry="0.78" fill="#7b8cc8" fill-opacity="0.53"/><ellipse cx="591.1" cy="253.4" rx="1.60" ry="1.44" fill="#8d9bd0" fill-opacity="0.78"/><ellipse cx="593.4" cy="251.0" rx="1.47" ry="1.46" fill="#7b8cc8" fill-opacity="0.46"/><ellipse cx="576.7" cy="251.4" rx="1.45" ry="1.22" fill="#8d9bd0" fill-opacity="0.88"/><ellipse cx="574.4" cy="253.8" rx="1.44" ry="0.84" fill="#8d9bd0" fill-opacity="0.88"/><ellipse cx="574.1" cy="252.8" rx="1.26" ry="0.65" fill="#7b8cc8" fill-opacity="0.59"/><ellipse cx="574.7" cy="253.0" rx="1.40" ry="1.27" fill="#8d9bd0" fill-opacity="0.84"/><ellipse cx="579.5" cy="253.7" rx="1.52" ry="0.83" fill="#8d9bd0" fill-opacity="0.80"/><ellipse cx="590.3" cy="249.9" rx="0.80" ry="0.64" fill="#7b8cc8" fill-opacity="0.66"/><ellipse cx="579.3" cy="251.6" rx="0.83" ry="0.74" fill="#7b8cc8" fill-opacity="0.73"/></g>
<ellipse cx="604" cy="254" rx="3" ry="2" fill="#7f8fc8" opacity="0.75"/>
<ellipse cx="610" cy="257" rx="2.5" ry="1.6" fill="#7f8fc8" opacity="0.75"/>
<ellipse cx="594" cy="258" rx="2" ry="1.2" fill="#7f8fc8" opacity="0.75"/>
<ellipse cx="613" cy="279" rx="2.2" ry="1.3" fill="#7f8fc8" opacity="0.75"/>
<ellipse cx="627" cy="274" rx="2" ry="1.1" fill="#7f8fc8" opacity="0.75"/>
<ellipse cx="640" cy="276" rx="1.8" ry="1.1" fill="#7f8fc8" opacity="0.75"/>
<ellipse cx="568" cy="247" rx="1.2" ry="1" fill="#7f8fc8" opacity="0.75"/>
<ellipse cx="603" cy="267" rx="1.5" ry="1" fill="#7f8fc8" opacity="0.75"/>
<ellipse cx="583" cy="270" rx="2" ry="1.3" fill="#7f8fc8" opacity="0.75"/>
<ellipse cx="565" cy="280" rx="2.5" ry="1.5" fill="#7f8fc8" opacity="0.75"/>
<path d="M570.0,250.0 580.0,243.0 590.0,239.0 603.0,237.0 612.0,241.0 620.0,249.0 628.0,258.0 615.0,259.0 600.0,257.0 588.0,258.0 576.0,256.0Z" fill="#c6c6d6" opacity="0.75" filter="url(#blur1)"/>
<g filter="url(#blur03)"><ellipse cx="592.1" cy="242.1" rx="0.63" ry="0.61" fill="#7e8ac2" fill-opacity="0.80"/><ellipse cx="586.4" cy="243.1" rx="1.18" ry="1.04" fill="#8a94c6" fill-opacity="0.75"/><ellipse cx="608.4" cy="255.5" rx="0.85" ry="0.49" fill="#8a94c6" fill-opacity="0.84"/><ellipse cx="588.5" cy="242.7" rx="1.05" ry="0.83" fill="#8a94c6" fill-opacity="0.75"/><ellipse cx="612.1" cy="253.1" rx="0.60" ry="0.50" fill="#8a94c6" fill-opacity="0.44"/><ellipse cx="603.5" cy="246.6" rx="1.14" ry="0.60" fill="#9aa2cc" fill-opacity="0.47"/><ellipse cx="608.7" cy="246.0" rx="1.03" ry="0.77" fill="#9aa2cc" fill-opacity="0.50"/><ellipse cx="600.9" cy="243.2" rx="0.52" ry="0.26" fill="#9aa2cc" fill-opacity="0.54"/><ellipse cx="620.7" cy="253.5" rx="0.59" ry="0.49" fill="#8a94c6" fill-opacity="0.80"/><ellipse cx="594.0" cy="252.6" rx="0.57" ry="0.43" fill="#7e8ac2" fill-opacity="0.78"/><ellipse cx="595.4" cy="253.1" rx="1.04" ry="0.74" fill="#9aa2cc" fill-opacity="0.44"/><ellipse cx="608.8" cy="248.9" rx="1.24" ry="0.78" fill="#9aa2cc" fill-opacity="0.80"/><ellipse cx="588.9" cy="257.3" rx="0.80" ry="0.76" fill="#9aa2cc" fill-opacity="0.73"/><ellipse cx="583.8" cy="249.5" rx="0.62" ry="0.41" fill="#8a94c6" fill-opacity="0.57"/><ellipse cx="611.9" cy="255.1" rx="0.86" ry="0.75" fill="#8a94c6" fill-opacity="0.65"/><ellipse cx="621.8" cy="255.1" rx="0.52" ry="0.42" fill="#8a94c6" fill-opacity="0.69"/><ellipse cx="599.8" cy="251.3" rx="0.64" ry="0.55" fill="#8a94c6" fill-opacity="0.42"/><ellipse cx="608.7" cy="252.3" rx="0.67" ry="0.47" fill="#9aa2cc" fill-opacity="0.53"/><ellipse cx="585.0" cy="245.4" rx="0.68" ry="0.38" fill="#7e8ac2" fill-opacity="0.53"/><ellipse cx="604.1" cy="243.7" rx="1.14" ry="0.96" fill="#8a94c6" fill-opacity="0.44"/><ellipse cx="597.3" cy="246.7" rx="0.89" ry="0.84" fill="#9aa2cc" fill-opacity="0.43"/><ellipse cx="617.9" cy="252.8" rx="1.07" ry="0.55" fill="#7e8ac2" fill-opacity="0.49"/><ellipse cx="591.3" cy="240.8" rx="1.19" ry="0.73" fill="#7e8ac2" fill-opacity="0.63"/><ellipse cx="578.6" cy="251.4" rx="0.92" ry="0.47" fill="#9aa2cc" fill-opacity="0.68"/><ellipse cx="602.3" cy="248.6" rx="0.70" ry="0.60" fill="#8a94c6" fill-opacity="0.64"/><ellipse cx="604.0" cy="252.2" rx="0.89" ry="0.70" fill="#7e8ac2" fill-opacity="0.42"/><ellipse cx="591.4" cy="243.1" rx="0.57" ry="0.47" fill="#9aa2cc" fill-opacity="0.41"/><ellipse cx="588.0" cy="243.7" rx="1.14" ry="0.88" fill="#9aa2cc" fill-opacity="0.70"/><ellipse cx="613.6" cy="245.2" rx="1.14" ry="0.62" fill="#9aa2cc" fill-opacity="0.58"/><ellipse cx="579.3" cy="247.1" rx="0.71" ry="0.68" fill="#8a94c6" fill-opacity="0.78"/><ellipse cx="588.3" cy="256.9" rx="0.75" ry="0.69" fill="#8a94c6" fill-opacity="0.42"/><ellipse cx="594.6" cy="255.1" rx="1.16" ry="0.65" fill="#8a94c6" fill-opacity="0.81"/><ellipse cx="619.3" cy="254.2" rx="0.78" ry="0.45" fill="#9aa2cc" fill-opacity="0.75"/><ellipse cx="614.8" cy="245.9" rx="1.03" ry="0.86" fill="#7e8ac2" fill-opacity="0.64"/><ellipse cx="585.8" cy="252.2" rx="1.22" ry="0.76" fill="#8a94c6" fill-opacity="0.74"/><ellipse cx="600.3" cy="241.3" rx="1.03" ry="0.66" fill="#9aa2cc" fill-opacity="0.82"/><ellipse cx="587.0" cy="243.3" rx="0.55" ry="0.35" fill="#7e8ac2" fill-opacity="0.54"/><ellipse cx="593.5" cy="249.0" rx="1.10" ry="0.56" fill="#7e8ac2" fill-opacity="0.83"/><ellipse cx="591.7" cy="254.3" rx="0.98" ry="0.82" fill="#9aa2cc" fill-opacity="0.69"/><ellipse cx="587.2" cy="245.1" rx="0.64" ry="0.45" fill="#8a94c6" fill-opacity="0.63"/><ellipse cx="602.6" cy="247.4" rx="1.14" ry="0.60" fill="#7e8ac2" fill-opacity="0.45"/><ellipse cx="593.5" cy="251.5" rx="0.94" ry="0.81" fill="#7e8ac2" fill-opacity="0.44"/><ellipse cx="614.0" cy="252.3" rx="1.17" ry="1.15" fill="#8a94c6" fill-opacity="0.83"/><ellipse cx="602.9" cy="246.9" rx="0.84" ry="0.54" fill="#8a94c6" fill-opacity="0.47"/><ellipse cx="615.9" cy="251.2" rx="1.24" ry="1.13" fill="#7e8ac2" fill-opacity="0.58"/></g>
<g filter="url(#soft)"><path d="M612.0,204.0 672.0,204.0 673.5,211.0 673.5,217.0 670.0,221.5 665.0,225.0 661.0,222.5 656.0,223.5 651.0,228.0 647.5,231.0 648.5,235.0 652.0,237.5 657.0,237.5 661.0,241.0 663.5,248.0 661.6,255.5 652.3,261.7 639.9,264.1 633.6,261.7 629.0,257.1 621.2,250.9 615.0,246.2 610.3,240.0 603.0,236.5 595.0,237.0 588.0,239.5 583.6,239.7 587.2,231.0 592.3,223.0 598.0,217.5 604.0,211.0Z" fill="#b6b9d6"/><path d="M612.0,204.0 672.0,204.0 673.5,211.0 673.5,217.0 670.0,221.5 665.0,225.0 661.0,222.5 656.0,223.5 651.0,228.0 647.5,231.0 648.5,235.0 652.0,237.5 657.0,237.5 661.0,241.0 663.5,248.0 661.6,255.5 652.3,261.7 639.9,264.1 633.6,261.7 629.0,257.1 621.2,250.9 615.0,246.2 610.3,240.0 603.0,236.5 595.0,237.0 588.0,239.5 583.6,239.7 587.2,231.0 592.3,223.0 598.0,217.5 604.0,211.0Z" fill="url(#pB2)"/><path d="M612.0,204.0 672.0,204.0 673.5,211.0 673.5,217.0 670.0,221.5 665.0,225.0 661.0,222.5 656.0,223.5 651.0,228.0 647.5,231.0 648.5,235.0 652.0,237.5 657.0,237.5 661.0,241.0 663.5,248.0 661.6,255.5 652.3,261.7 639.9,264.1 633.6,261.7 629.0,257.1 621.2,250.9 615.0,246.2 610.3,240.0 603.0,236.5 595.0,237.0 588.0,239.5 583.6,239.7 587.2,231.0 592.3,223.0 598.0,217.5 604.0,211.0Z" fill="url(#pB1)"/></g>
<ellipse cx="624.5" cy="210.5" rx="3.5" ry="2" fill="#d3d3dc" opacity="0.8" filter="url(#blur06)"/>
<path d="M583,245.4 L599.4,240" stroke="#b8642e" stroke-width="2.0" fill="none" opacity="0.85" filter="url(#blur1)"/>
<path d="M577.7,249.5 L581.8,248.1" stroke="#b8642e" stroke-width="1.6" fill="none" opacity="0.8" filter="url(#blur1)"/>
<path d="M611.6,234.6 L619.8,238.6" stroke="#b8642e" stroke-width="2.0" fill="none" opacity="0.75" filter="url(#blur1)"/>
<path d="M617,245.4 L623,251 L629.3,256.3" stroke="#b8642e" stroke-width="2.2" fill="none" opacity="0.7" filter="url(#blur1)"/>
<path d="M594,235.9 L604.8,231.9" stroke="#b8642e" stroke-width="1.4" fill="none" opacity="0.3" filter="url(#blur1)"/>
<path d="M633,220 L637,216" stroke="#b8642e" stroke-width="1.4" fill="none" opacity="0.25" filter="url(#blur1)"/>
<path d="M664,222 L670,226" stroke="#b8642e" stroke-width="1.4" fill="none" opacity="0.25" filter="url(#blur1)"/>
<circle cx="580.2" cy="250.6" r="1.1" fill="#b45a2a" opacity="0.7"/>
<circle cx="587" cy="274.8" r="1.0" fill="#b45a2a" opacity="0.7"/>
<circle cx="613.5" cy="277" r="0.9" fill="#b45a2a" opacity="0.7"/>
<rect x="669" y="282.5" width="6" height="1" fill="#444" opacity="0.6"/>
</g>
<rect x="681.4" y="204.4" width="117.6" height="80.4" fill="#dbd8d2"/>
<g clip-path="url(#clip2)">
<path d="M684.0,258.0 700.0,246.0 730.0,249.0 740.0,268.0 722.0,276.0 690.0,276.0 683.0,270.0Z" fill="#c8cbd9" opacity="0.55" filter="url(#blur2)"/>
<g filter="url(#blur03)"><ellipse cx="705.4" cy="266.5" rx="0.74" ry="0.41" fill="#8595c9" fill-opacity="0.63"/><ellipse cx="691.0" cy="275.5" rx="0.63" ry="0.34" fill="#8595c9" fill-opacity="0.56"/><ellipse cx="708.5" cy="258.4" rx="1.60" ry="0.87" fill="#8595c9" fill-opacity="0.66"/><ellipse cx="733.6" cy="256.2" rx="0.81" ry="0.56" fill="#7a8bc4" fill-opacity="0.73"/><ellipse cx="695.0" cy="252.5" rx="1.18" ry="0.92" fill="#8595c9" fill-opacity="0.69"/><ellipse cx="703.3" cy="252.1" rx="1.44" ry="1.43" fill="#8595c9" fill-opacity="0.38"/><ellipse cx="713.3" cy="259.2" rx="1.41" ry="0.85" fill="#97a3d0" fill-opacity="0.64"/><ellipse cx="694.0" cy="265.2" rx="0.82" ry="0.43" fill="#97a3d0" fill-opacity="0.47"/><ellipse cx="715.6" cy="260.5" rx="1.25" ry="0.82" fill="#8595c9" fill-opacity="0.74"/><ellipse cx="700.5" cy="251.3" rx="1.22" ry="0.95" fill="#7a8bc4" fill-opacity="0.47"/><ellipse cx="728.3" cy="257.2" rx="1.56" ry="1.30" fill="#97a3d0" fill-opacity="0.71"/><ellipse cx="720.0" cy="275.7" rx="0.80" ry="0.58" fill="#97a3d0" fill-opacity="0.53"/><ellipse cx="728.0" cy="262.9" rx="0.72" ry="0.39" fill="#7a8bc4" fill-opacity="0.40"/><ellipse cx="694.1" cy="256.1" rx="1.31" ry="1.22" fill="#97a3d0" fill-opacity="0.37"/><ellipse cx="717.9" cy="261.4" rx="1.46" ry="1.45" fill="#97a3d0" fill-opacity="0.60"/><ellipse cx="690.9" cy="267.8" rx="1.29" ry="1.28" fill="#8595c9" fill-opacity="0.45"/><ellipse cx="702.9" cy="246.3" rx="0.98" ry="0.63" fill="#8595c9" fill-opacity="0.75"/><ellipse cx="690.5" cy="263.0" rx="1.21" ry="1.17" fill="#8595c9" fill-opacity="0.67"/><ellipse cx="722.3" cy="262.6" rx="1.16" ry="0.88" fill="#7a8bc4" fill-opacity="0.69"/><ellipse cx="705.9" cy="261.7" rx="1.32" ry="0.96" fill="#7a8bc4" fill-opacity="0.68"/><ellipse cx="701.6" cy="257.1" rx="1.12" ry="0.76" fill="#8595c9" fill-opacity="0.73"/><ellipse cx="722.3" cy="263.4" rx="0.77" ry="0.71" fill="#8595c9" fill-opacity="0.64"/><ellipse cx="694.8" cy="253.4" rx="1.48" ry="0.89" fill="#7a8bc4" fill-opacity="0.47"/><ellipse cx="716.5" cy="273.6" rx="0.87" ry="0.84" fill="#8595c9" fill-opacity="0.36"/><ellipse cx="718.0" cy="272.9" rx="0.86" ry="0.52" fill="#7a8bc4" fill-opacity="0.50"/><ellipse cx="705.9" cy="270.5" rx="0.98" ry="0.59" fill="#8595c9" fill-opacity="0.48"/><ellipse cx="699.9" cy="274.8" rx="0.71" ry="0.43" fill="#8595c9" fill-opacity="0.70"/><ellipse cx="722.5" cy="272.6" rx="1.05" ry="0.87" fill="#7a8bc4" fill-opacity="0.42"/><ellipse cx="684.9" cy="260.5" rx="0.90" ry="0.66" fill="#8595c9" fill-opacity="0.74"/><ellipse cx="698.8" cy="254.2" rx="0.88" ry="0.84" fill="#8595c9" fill-opacity="0.58"/><ellipse cx="706.0" cy="269.3" rx="0.83" ry="0.67" fill="#7a8bc4" fill-opacity="0.57"/><ellipse cx="701.2" cy="248.9" rx="1.17" ry="0.70" fill="#97a3d0" fill-opacity="0.71"/><ellipse cx="711.1" cy="255.2" rx="1.07" ry="1.04" fill="#97a3d0" fill-opacity="0.47"/><ellipse cx="705.1" cy="266.3" rx="1.15" ry="0.71" fill="#97a3d0" fill-opacity="0.37"/><ellipse cx="715.5" cy="274.8" rx="0.84" ry="0.78" fill="#97a3d0" fill-opacity="0.62"/><ellipse cx="701.5" cy="275.5" rx="1.40" ry="0.74" fill="#8595c9" fill-opacity="0.64"/><ellipse cx="726.3" cy="258.8" rx="1.37" ry="0.89" fill="#8595c9" fill-opacity="0.72"/><ellipse cx="695.8" cy="271.8" rx="1.15" ry="0.62" fill="#97a3d0" fill-opacity="0.67"/><ellipse cx="708.1" cy="260.4" rx="1.08" ry="0.91" fill="#7a8bc4" fill-opacity="0.68"/><ellipse cx="724.4" cy="256.2" rx="0.77" ry="0.42" fill="#97a3d0" fill-opacity="0.37"/><ellipse cx="715.4" cy="273.3" rx="0.92" ry="0.64" fill="#97a3d0" fill-opacity="0.44"/><ellipse cx="686.3" cy="272.1" rx="1.05" ry="0.98" fill="#97a3d0" fill-opacity="0.53"/><ellipse cx="705.9" cy="270.5" rx="1.34" ry="1.28" fill="#7a8bc4" fill-opacity="0.56"/><ellipse cx="701.2" cy="253.2" rx="0.86" ry="0.47" fill="#8595c9" fill-opacity="0.40"/><ellipse cx="716.4" cy="272.1" rx="1.47" ry="0.83" fill="#97a3d0" fill-opacity="0.54"/><ellipse cx="698.7" cy="256.2" rx="1.52" ry="1.35" fill="#97a3d0" fill-opacity="0.59"/><ellipse cx="729.8" cy="258.6" rx="0.67" ry="0.55" fill="#97a3d0" fill-opacity="0.68"/><ellipse cx="731.5" cy="267.2" rx="0.91" ry="0.76" fill="#97a3d0" fill-opacity="0.52"/><ellipse cx="728.6" cy="262.3" rx="1.09" ry="0.73" fill="#7a8bc4" fill-opacity="0.52"/><ellipse cx="691.9" cy="253.7" rx="0.92" ry="0.85" fill="#97a3d0" fill-opacity="0.57"/><ellipse cx="727.1" cy="249.6" rx="1.31" ry="1.05" fill="#7a8bc4" fill-opacity="0.70"/><ellipse cx="714.4" cy="263.8" rx="1.37" ry="0.86" fill="#7a8bc4" fill-opacity="0.47"/><ellipse cx="705.2" cy="259.2" rx="0.92" ry="0.74" fill="#7a8bc4" fill-opacity="0.45"/><ellipse cx="687.3" cy="264.4" rx="0.75" ry="0.74" fill="#97a3d0" fill-opacity="0.73"/><ellipse cx="724.1" cy="267.6" rx="1.34" ry="0.96" fill="#8595c9" fill-opacity="0.42"/><ellipse cx="712.2" cy="266.5" rx="1.18" ry="1.07" fill="#97a3d0" fill-opacity="0.71"/><ellipse cx="729.9" cy="256.1" rx="1.10" ry="0.91" fill="#8595c9" fill-opacity="0.64"/><ellipse cx="710.5" cy="255.2" rx="0.81" ry="0.44" fill="#97a3d0" fill-opacity="0.59"/><ellipse cx="702.7" cy="271.7" rx="1.39" ry="0.74" fill="#7a8bc4" fill-opacity="0.59"/><ellipse cx="696.6" cy="257.1" rx="1.02" ry="0.77" fill="#97a3d0" fill-opacity="0.51"/><ellipse cx="692.3" cy="254.8" rx="1.25" ry="0.84" fill="#7a8bc4" fill-opacity="0.41"/><ellipse cx="723.2" cy="273.0" rx="0.93" ry="0.58" fill="#7a8bc4" fill-opacity="0.54"/><ellipse cx="727.2" cy="261.6" rx="1.03" ry="1.02" fill="#7a8bc4" fill-opacity="0.42"/><ellipse cx="714.9" cy="273.7" rx="1.17" ry="0.67" fill="#7a8bc4" fill-opacity="0.59"/><ellipse cx="721.2" cy="272.9" rx="0.88" ry="0.52" fill="#8595c9" fill-opacity="0.49"/><ellipse cx="692.1" cy="260.0" rx="0.97" ry="0.60" fill="#7a8bc4" fill-opacity="0.49"/><ellipse cx="733.5" cy="256.3" rx="1.25" ry="0.75" fill="#97a3d0" fill-opacity="0.58"/><ellipse cx="709.4" cy="256.1" rx="1.40" ry="1.37" fill="#97a3d0" fill-opacity="0.52"/><ellipse cx="712.1" cy="267.0" rx="1.55" ry="1.44" fill="#97a3d0" fill-opacity="0.55"/><ellipse cx="712.9" cy="262.6" rx="0.60" ry="0.45" fill="#8595c9" fill-opacity="0.74"/><ellipse cx="708.8" cy="250.8" rx="1.20" ry="0.84" fill="#7a8bc4" fill-opacity="0.55"/><ellipse cx="696.1" cy="263.9" rx="1.34" ry="1.03" fill="#97a3d0" fill-opacity="0.36"/><ellipse cx="736.5" cy="266.9" rx="1.23" ry="0.68" fill="#97a3d0" fill-opacity="0.51"/><ellipse cx="709.5" cy="262.7" rx="1.05" ry="1.02" fill="#97a3d0" fill-opacity="0.61"/><ellipse cx="704.9" cy="255.1" rx="1.40" ry="0.75" fill="#97a3d0" fill-opacity="0.73"/><ellipse cx="717.5" cy="257.2" rx="1.48" ry="0.83" fill="#97a3d0" fill-opacity="0.58"/><ellipse cx="685.6" cy="262.4" rx="0.82" ry="0.45" fill="#8595c9" fill-opacity="0.65"/><ellipse cx="704.7" cy="272.1" rx="0.64" ry="0.50" fill="#8595c9" fill-opacity="0.45"/><ellipse cx="708.5" cy="248.4" rx="0.66" ry="0.61" fill="#97a3d0" fill-opacity="0.50"/><ellipse cx="730.3" cy="254.7" rx="0.72" ry="0.64" fill="#7a8bc4" fill-opacity="0.75"/></g>
<g filter="url(#blur03)"><ellipse cx="687.1" cy="278.7" rx="0.90" ry="0.86" fill="#97a3d0" fill-opacity="0.31"/><ellipse cx="684.0" cy="279.6" rx="0.93" ry="0.49" fill="#97a3d0" fill-opacity="0.45"/><ellipse cx="681.1" cy="283.0" rx="0.73" ry="0.37" fill="#8595c9" fill-opacity="0.63"/><ellipse cx="687.4" cy="278.0" rx="1.58" ry="0.88" fill="#8595c9" fill-opacity="0.48"/><ellipse cx="715.1" cy="284.4" rx="1.16" ry="0.71" fill="#97a3d0" fill-opacity="0.42"/><ellipse cx="745.3" cy="282.9" rx="1.17" ry="0.92" fill="#8595c9" fill-opacity="0.53"/><ellipse cx="699.1" cy="279.6" rx="0.84" ry="0.59" fill="#97a3d0" fill-opacity="0.47"/><ellipse cx="686.5" cy="280.8" rx="1.41" ry="1.02" fill="#8595c9" fill-opacity="0.65"/><ellipse cx="691.5" cy="279.1" rx="1.15" ry="0.66" fill="#8595c9" fill-opacity="0.38"/><ellipse cx="756.2" cy="282.5" rx="1.55" ry="1.16" fill="#8595c9" fill-opacity="0.55"/><ellipse cx="722.5" cy="281.1" rx="0.83" ry="0.57" fill="#97a3d0" fill-opacity="0.38"/><ellipse cx="748.1" cy="281.1" rx="1.20" ry="1.10" fill="#97a3d0" fill-opacity="0.36"/><ellipse cx="683.2" cy="284.6" rx="1.19" ry="1.17" fill="#97a3d0" fill-opacity="0.61"/><ellipse cx="713.9" cy="278.8" rx="1.00" ry="0.99" fill="#97a3d0" fill-opacity="0.37"/><ellipse cx="709.9" cy="277.7" rx="1.31" ry="1.30" fill="#8595c9" fill-opacity="0.35"/><ellipse cx="735.7" cy="279.1" rx="1.28" ry="0.87" fill="#8595c9" fill-opacity="0.63"/><ellipse cx="683.7" cy="284.7" rx="0.78" ry="0.39" fill="#8595c9" fill-opacity="0.57"/><ellipse cx="741.5" cy="280.0" rx="0.71" ry="0.47" fill="#8595c9" fill-opacity="0.39"/><ellipse cx="715.9" cy="280.6" rx="1.50" ry="0.76" fill="#97a3d0" fill-opacity="0.31"/><ellipse cx="686.4" cy="279.8" rx="1.33" ry="0.74" fill="#8595c9" fill-opacity="0.69"/><ellipse cx="749.3" cy="283.0" rx="0.67" ry="0.54" fill="#8595c9" fill-opacity="0.50"/><ellipse cx="686.2" cy="278.5" rx="1.59" ry="1.57" fill="#8595c9" fill-opacity="0.69"/></g>
<g filter="url(#soft)"><path d="M749.6,204.0 775.7,204.0 781.5,210.7 783.0,216.5 788.8,222.3 789.5,231.0 785.9,239.7 781.5,245.5 770.0,245.5 765.0,244.0 762.2,250.6 768.3,250.6 772.8,255.2 774.4,262.7 771.3,270.3 765.3,276.4 756.2,278.6 747.0,276.4 741.0,271.8 736.0,264.0 733.0,256.0 728.0,249.0 718.7,245.4 710.0,245.0 702.4,244.0 703.3,241.2 712.0,232.5 720.7,225.3 730.9,218.0 740.0,210.7Z" fill="#c0a898"/><path d="M749.6,204.0 775.7,204.0 781.5,210.7 783.0,216.5 788.8,222.3 789.5,231.0 785.9,239.7 781.5,245.5 770.0,245.5 765.0,244.0 762.2,250.6 768.3,250.6 772.8,255.2 774.4,262.7 771.3,270.3 765.3,276.4 756.2,278.6 747.0,276.4 741.0,271.8 736.0,264.0 733.0,256.0 728.0,249.0 718.7,245.4 710.0,245.0 702.4,244.0 703.3,241.2 712.0,232.5 720.7,225.3 730.9,218.0 740.0,210.7Z" fill="url(#pR2)"/><path d="M749.6,204.0 775.7,204.0 781.5,210.7 783.0,216.5 788.8,222.3 789.5,231.0 785.9,239.7 781.5,245.5 770.0,245.5 765.0,244.0 762.2,250.6 768.3,250.6 772.8,255.2 774.4,262.7 771.3,270.3 765.3,276.4 756.2,278.6 747.0,276.4 741.0,271.8 736.0,264.0 733.0,256.0 728.0,249.0 718.7,245.4 710.0,245.0 702.4,244.0 703.3,241.2 712.0,232.5 720.7,225.3 730.9,218.0 740.0,210.7Z" fill="url(#pR1)"/></g>
<path d="M702,244 L712,233 L722,226 L718,236 L714,246 Z" fill="#9ea6cc" opacity="0.45" filter="url(#blur1)"/>
<path d="M780,210 L788,222 L789,232 L784,238 L780,226 Z" fill="#9ea6cc" opacity="0.4" filter="url(#blur1)"/>
<path d="M731,217.5 Q743,222 756.5,233" stroke="#d3ccc8" stroke-width="3.6" fill="none" opacity="0.6" filter="url(#blur06)"/>
<ellipse cx="759.4" cy="218.3" rx="2.6" ry="2.1" fill="#dcd8d2" opacity="0.9" filter="url(#blur03)"/>
<ellipse cx="741" cy="224" rx="4" ry="2.5" fill="#cdc4c2" opacity="0.45" filter="url(#blur1)"/>
<g filter="url(#blur03)"><ellipse cx="791.1" cy="212.3" rx="1.42" ry="0.90" fill="#6c7fc2" fill-opacity="0.65"/><ellipse cx="790.5" cy="211.3" rx="1.58" ry="1.50" fill="#6c7fc2" fill-opacity="0.43"/><ellipse cx="793.0" cy="210.8" rx="0.88" ry="0.74" fill="#7b8cc8" fill-opacity="0.42"/><ellipse cx="786.9" cy="211.0" rx="0.65" ry="0.52" fill="#6c7fc2" fill-opacity="0.57"/><ellipse cx="795.0" cy="208.8" rx="0.92" ry="0.81" fill="#7b8cc8" fill-opacity="0.35"/><ellipse cx="786.6" cy="208.1" rx="1.50" ry="1.31" fill="#7b8cc8" fill-opacity="0.56"/><ellipse cx="794.3" cy="211.1" rx="0.92" ry="0.62" fill="#6c7fc2" fill-opacity="0.42"/><ellipse cx="788.3" cy="207.9" rx="0.71" ry="0.37" fill="#6c7fc2" fill-opacity="0.60"/></g>
<rect x="790" y="282.5" width="6" height="1" fill="#444" opacity="0.6"/>
</g>
</svg>
</body></html>
